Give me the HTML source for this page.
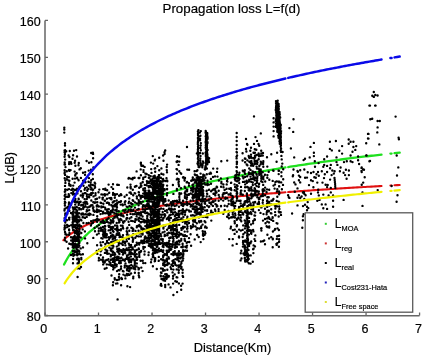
<!DOCTYPE html><html><head><meta charset="utf-8"><style>html,body{margin:0;padding:0;background:#fff;overflow:hidden}svg{display:block}text{font-family:"Liberation Sans",Arial,sans-serif;fill:#000;stroke:#000;stroke-width:0.18px}</style></head><body><svg width="425" height="356" viewBox="0 0 425 356"><rect width="425" height="356" fill="#fff"/><path d="M64.05 264.59L66.06 260.75L68.07 257.25L70.09 254.05L72.10 251.09L74.11 248.35L76.12 245.79L78.14 243.39L80.15 241.13L82.16 238.99L84.17 236.97L86.19 235.06L88.20 233.23L90.21 231.48L92.22 229.82L94.24 228.22L96.25 226.68L98.26 225.21L100.27 223.79L102.29 222.42L104.30 221.09L106.31 219.82L108.32 218.58L110.34 217.38L112.35 216.22L114.36 215.09L116.37 213.99L118.39 212.93L120.40 211.89L122.41 210.88L124.42 209.90L126.44 208.94L128.45 208.01L130.46 207.09L132.47 206.20L134.49 205.33L136.50 204.48L138.51 203.65L140.52 202.83L142.54 202.03L144.55 201.25L146.56 200.48L148.57 199.73L150.59 198.99L152.60 198.27L154.61 197.56L156.62 196.86L158.64 196.18L160.65 195.51L162.66 194.85L164.67 194.20L166.69 193.56L168.70 192.93L170.71 192.31L172.72 191.70L174.73 191.10L176.75 190.51L178.76 189.93L180.77 189.36L182.78 188.80L184.80 188.24L186.81 187.69L188.82 187.15L190.83 186.62L192.85 186.10L194.86 185.58L196.87 185.07L198.88 184.56L200.90 184.07L202.91 183.58L204.92 183.09L206.93 182.61L208.95 182.14L210.96 181.67L212.97 181.21L214.98 180.75L217.00 180.30L219.01 179.86L221.02 179.42L223.03 178.98L225.05 178.55L227.06 178.12L229.07 177.70L231.08 177.29L233.10 176.87L235.11 176.47L237.12 176.06L239.13 175.66L241.15 175.27L243.16 174.88L245.17 174.49L247.18 174.11L249.20 173.73L251.21 173.35L253.22 172.98L255.23 172.61L257.25 172.25L259.26 171.89L261.27 171.53L263.28 171.17L265.30 170.82L267.31 170.47L269.32 170.13L271.33 169.79L273.35 169.45L275.36 169.11L277.37 168.78L279.38 168.45L281.40 168.12L283.41 167.79L285.42 167.47M288.20 167.03L290.23 166.71L292.26 166.40L294.29 166.08L296.32 165.77L298.35 165.47L300.38 165.16L302.40 164.86L304.43 164.56L306.46 164.26L308.49 163.96L310.52 163.67L312.55 163.38L314.58 163.09L316.61 162.80L318.63 162.52L320.66 162.23L322.69 161.95L324.72 161.67L326.75 161.40L328.78 161.12L330.81 160.85L332.83 160.58L334.86 160.31L336.89 160.04L338.92 159.78L340.95 159.51L342.98 159.25L345.01 158.99L347.04 158.73L349.06 158.48L351.09 158.22L353.12 157.97L355.15 157.72L357.18 157.47L359.21 157.22L361.24 156.97L363.27 156.73L365.29 156.48L367.32 156.24L369.35 156.00L371.38 155.76L373.41 155.53L375.44 155.29L377.47 155.06L379.50 154.82L381.52 154.59M394.47 153.14L397.10 152.86L399.72 152.57M390.40 153.53h1.2" fill="none" stroke="#1ee01e" stroke-width="2.3" stroke-linecap="round" stroke-linejoin="round"/><path d="M63.35 240.26L65.35 238.33L67.36 236.58L69.36 234.99L71.36 233.51L73.36 232.15L75.36 230.88L77.36 229.69L79.36 228.57L81.36 227.51L83.36 226.51L85.36 225.57L87.36 224.66L89.36 223.80L91.36 222.98L93.36 222.19L95.36 221.44L97.36 220.71L99.36 220.01L101.37 219.34L103.37 218.69L105.37 218.06L107.37 217.45L109.37 216.86L111.37 216.29L113.37 215.74L115.37 215.20L117.37 214.68L119.37 214.17L121.37 213.67L123.37 213.19L125.37 212.72L127.37 212.26L129.37 211.81L131.37 211.38L133.37 210.95L135.38 210.53L137.38 210.12L139.38 209.73L141.38 209.33L143.38 208.95L145.38 208.58L147.38 208.21L149.38 207.85L151.38 207.49L153.38 207.15L155.38 206.80L157.38 206.47L159.38 206.14L161.38 205.82L163.38 205.50L165.38 205.19L167.39 204.88L169.39 204.58L171.39 204.28L173.39 203.99L175.39 203.70L177.39 203.41L179.39 203.13L181.39 202.86L183.39 202.59L185.39 202.32L187.39 202.06L189.39 201.80L191.39 201.54L193.39 201.29L195.39 201.04L197.39 200.79L199.39 200.55L201.40 200.31L203.40 200.07L205.40 199.83L207.40 199.60L209.40 199.38L211.40 199.15L213.40 198.93L215.40 198.71L217.40 198.49L219.40 198.27L221.40 198.06L223.40 197.85L225.40 197.64L227.40 197.44L229.40 197.23L231.40 197.03L233.40 196.83L235.41 196.64L237.41 196.44L239.41 196.25L241.41 196.06L243.41 195.87L245.41 195.68L247.41 195.50L249.41 195.31L251.41 195.13L253.41 194.95L255.41 194.77L257.41 194.60L259.41 194.42L261.41 194.25L263.41 194.08L265.41 193.91L267.42 193.74L269.42 193.57L271.42 193.41L273.42 193.24L275.42 193.08L277.42 192.92L279.42 192.76L281.42 192.60L283.42 192.44L285.42 192.29M288.20 192.07L290.23 191.92L292.26 191.76L294.29 191.61L296.32 191.46L298.35 191.31L300.38 191.16L302.40 191.01L304.43 190.87L306.46 190.72L308.49 190.58L310.52 190.44L312.55 190.29L314.58 190.15L316.61 190.01L318.63 189.87L320.66 189.74L322.69 189.60L324.72 189.46L326.75 189.33L328.78 189.20L330.81 189.06L332.83 188.93L334.86 188.80L336.89 188.67L338.92 188.54L340.95 188.41L342.98 188.28L345.01 188.16L347.04 188.03L349.06 187.91L351.09 187.78L353.12 187.66L355.15 187.54L357.18 187.42L359.21 187.30L361.24 187.18L363.27 187.06L365.29 186.94L367.32 186.82L369.35 186.70L371.38 186.59L373.41 186.47L375.44 186.36L377.47 186.24L379.50 186.13L381.52 186.02M394.47 185.31L397.10 185.17L399.72 185.03M390.40 185.50h1.2" fill="none" stroke="#e01010" stroke-width="2.1" stroke-linecap="round" stroke-linejoin="round"/><path d="M64.9 152.7h0M64.9 152.7h0M68.6 155.4h0M68.6 155.4h0M69.4 157.0h0M73.1 155.2h0M72.5 158.7h0M77.0 156.5h0M64.6 164.5h0M64.9 164.4h0M69.1 164.0h0M71.3 163.7h0M70.9 162.1h0M69.2 162.1h0M75.4 165.7h0M75.1 160.8h0M74.7 162.8h0M78.5 165.2h0M78.8 162.9h0M86.6 161.0h0M64.6 173.5h0M66.8 171.2h0M69.4 170.9h0M69.0 169.9h0M70.6 170.1h0M74.6 171.6h0M75.4 174.4h0M75.2 175.6h0M79.5 169.4h0M76.7 173.2h0M80.8 168.3h0M83.0 172.8h0M85.2 172.1h0M85.0 174.7h0M66.9 179.2h0M67.1 176.8h0M68.9 177.1h0M68.6 180.5h0M69.4 180.8h0M69.4 180.8h0M69.1 183.4h0M74.6 182.6h0M75.0 178.6h0M72.6 178.8h0M77.0 177.8h0M78.6 180.3h0M77.3 178.5h0M77.2 178.2h0M80.9 177.9h0M83.1 180.8h0M85.3 182.4h0M84.7 179.9h0M85.5 182.1h0M65.2 191.4h0M67.3 189.7h0M70.6 185.1h0M70.7 185.8h0M69.0 189.1h0M69.3 185.2h0M71.3 189.9h0M72.9 189.0h0M73.3 191.5h0M75.0 189.8h0M73.2 185.6h0M72.5 188.7h0M77.1 188.7h0M79.2 186.9h0M76.5 190.2h0M81.0 191.2h0M83.5 185.7h0M80.5 185.9h0M86.8 187.4h0M84.6 189.8h0M87.2 190.3h0M87.3 190.8h0M85.0 188.2h0M67.3 196.8h0M64.7 195.8h0M65.1 194.7h0M71.3 193.1h0M68.7 194.3h0M69.0 196.5h0M68.9 196.8h0M69.2 195.6h0M75.0 194.1h0M75.4 198.9h0M73.3 193.3h0M72.9 194.6h0M72.9 193.9h0M77.4 193.4h0M78.6 198.8h0M78.7 199.3h0M82.7 197.2h0M80.7 195.5h0M82.8 193.7h0M82.6 195.0h0M83.1 195.6h0M87.0 194.5h0M84.6 199.1h0M85.5 193.1h0M86.8 199.0h0M84.8 193.3h0M87.3 197.3h0M86.9 196.3h0M91.2 153.0h0M92.9 152.8h0M93.1 158.2h0M93.1 153.9h0M89.0 162.8h0M91.4 162.3h0M93.4 167.5h0M88.7 170.6h0M91.0 169.8h0M92.8 174.2h0M88.5 181.7h0M89.0 178.1h0M90.6 182.4h0M91.2 180.3h0M95.2 183.6h0M94.7 182.8h0M92.9 178.9h0M88.5 188.9h0M90.9 184.7h0M91.4 189.3h0M91.1 189.4h0M89.0 185.5h0M90.5 187.0h0M91.5 188.3h0M94.7 185.7h0M94.9 187.8h0M92.7 190.0h0M92.8 185.0h0M95.1 187.2h0M94.8 186.0h0M93.2 189.6h0M99.3 189.6h0M103.2 189.1h0M107.2 190.3h0M105.4 189.9h0M105.3 188.6h0M108.6 184.6h0M111.5 187.1h0M113.1 188.9h0M113.0 184.3h0M117.2 184.8h0M118.8 184.9h0M88.7 197.1h0M91.0 195.1h0M91.4 194.4h0M89.1 197.1h0M89.1 194.8h0M91.1 193.3h0M90.6 194.3h0M89.2 197.3h0M91.2 194.4h0M93.5 196.4h0M95.5 199.2h0M92.8 192.9h0M95.5 195.2h0M92.6 193.0h0M95.5 193.3h0M99.4 197.5h0M97.0 198.8h0M98.5 192.3h0M102.9 197.7h0M102.8 194.6h0M102.5 197.9h0M102.6 199.2h0M101.4 194.4h0M106.9 198.7h0M104.9 195.5h0M107.4 194.4h0M105.3 194.4h0M104.7 194.3h0M109.3 198.1h0M111.4 198.3h0M111.4 199.3h0M109.2 192.7h0M111.0 197.9h0M111.0 199.0h0M113.0 194.8h0M114.8 197.8h0M114.9 194.1h0M115.1 195.2h0M113.1 192.9h0M119.1 195.7h0M119.5 195.6h0M117.0 194.1h0M140.8 163.0h0M141.4 165.8h0M142.9 165.8h0M140.9 162.8h0M141.0 164.5h0M144.6 166.9h0M150.9 162.6h0M136.6 171.4h0M143.5 171.9h0M140.9 175.2h0M143.5 170.1h0M140.7 169.4h0M145.4 173.6h0M146.6 174.0h0M148.7 175.1h0M151.5 172.9h0M151.2 169.1h0M128.9 178.0h0M128.5 178.5h0M130.8 178.6h0M133.0 178.0h0M132.5 179.3h0M134.6 177.7h0M138.6 178.0h0M139.4 178.0h0M143.2 179.0h0M142.7 182.2h0M140.7 183.5h0M143.3 177.7h0M142.7 181.9h0M147.1 182.9h0M146.9 181.2h0M145.4 176.7h0M148.9 181.6h0M148.9 182.9h0M151.2 183.7h0M148.8 177.7h0M150.5 181.2h0M151.3 183.6h0M150.7 176.3h0M150.6 179.4h0M149.1 181.9h0M127.3 187.5h0M130.7 188.3h0M130.7 187.0h0M130.5 187.3h0M130.5 184.6h0M132.8 189.8h0M134.9 186.8h0M132.8 189.6h0M135.4 186.5h0M136.5 186.0h0M139.2 187.7h0M143.4 190.3h0M141.4 185.7h0M143.3 190.0h0M140.8 186.7h0M143.3 188.7h0M140.9 185.5h0M145.0 188.3h0M145.5 190.8h0M144.8 184.9h0M144.9 191.6h0M146.7 185.3h0M149.2 190.6h0M149.3 186.5h0M151.1 187.1h0M150.7 186.1h0M148.7 186.4h0M148.8 187.2h0M149.0 186.0h0M149.2 191.6h0M148.5 190.8h0M149.3 191.1h0M149.4 186.0h0M121.4 195.1h0M120.9 194.2h0M124.6 196.7h0M126.7 195.0h0M129.5 192.6h0M129.3 198.4h0M131.2 193.7h0M130.6 192.5h0M134.6 193.1h0M135.2 193.4h0M133.2 195.2h0M139.2 195.4h0M136.8 196.5h0M138.9 192.4h0M139.1 195.2h0M138.7 192.3h0M136.9 198.4h0M139.1 195.0h0M140.5 196.4h0M142.6 196.9h0M143.2 193.6h0M142.8 196.2h0M140.6 195.9h0M140.8 198.5h0M141.5 195.9h0M141.1 197.0h0M145.1 198.6h0M147.1 193.8h0M146.7 193.9h0M147.4 193.5h0M146.6 194.1h0M144.5 196.5h0M145.2 194.7h0M147.1 196.4h0M147.1 194.6h0M144.9 197.2h0M147.0 193.6h0M145.1 195.9h0M144.9 196.9h0M147.3 198.3h0M146.6 193.3h0M146.9 198.2h0M144.5 193.3h0M151.3 196.1h0M149.3 198.9h0M148.5 192.8h0M148.7 199.6h0M150.8 198.3h0M149.2 197.6h0M148.6 194.9h0M150.7 198.9h0M151.4 195.7h0M151.0 199.1h0M149.1 196.9h0M148.8 192.6h0M148.9 197.0h0M151.2 198.9h0M149.3 194.3h0M149.1 195.0h0M151.1 196.6h0M148.8 196.3h0M151.2 195.0h0M151.5 196.6h0M150.8 192.9h0M152.8 156.1h0M155.1 159.6h0M159.2 157.8h0M163.1 155.5h0M164.6 154.0h0M164.5 152.3h0M177.0 156.3h0M179.1 156.7h0M154.7 160.4h0M153.2 163.6h0M157.4 166.1h0M163.5 160.7h0M167.1 164.6h0M166.7 167.0h0M176.9 162.1h0M177.4 161.1h0M176.6 161.8h0M179.3 161.6h0M178.6 164.9h0M155.2 168.3h0M155.2 171.7h0M154.7 175.7h0M154.7 168.6h0M159.2 170.3h0M159.2 175.1h0M158.8 175.2h0M161.4 168.4h0M163.4 174.5h0M161.4 173.8h0M166.8 170.1h0M167.0 172.2h0M176.9 173.7h0M179.3 171.2h0M177.1 169.6h0M176.5 169.1h0M176.8 169.3h0M180.6 173.1h0M181.2 173.8h0M154.7 183.4h0M153.4 181.9h0M154.6 177.8h0M152.5 183.3h0M153.3 181.0h0M155.0 177.3h0M152.8 178.8h0M154.5 178.2h0M154.5 181.9h0M155.3 180.8h0M155.4 180.9h0M153.3 176.5h0M152.8 181.5h0M153.2 182.4h0M154.7 176.3h0M152.8 181.9h0M152.5 179.9h0M157.5 180.7h0M159.1 177.5h0M157.4 178.0h0M156.6 181.0h0M157.0 183.6h0M157.1 178.9h0M159.4 182.9h0M156.9 181.1h0M158.7 178.2h0M156.9 182.8h0M157.4 177.2h0M156.8 178.7h0M157.4 179.6h0M158.7 179.5h0M159.1 177.2h0M159.1 181.5h0M162.8 181.5h0M161.2 183.5h0M163.1 178.9h0M160.8 177.7h0M160.7 181.2h0M160.9 183.6h0M163.2 179.5h0M160.6 183.0h0M162.7 179.2h0M160.5 182.6h0M163.2 180.0h0M166.5 178.2h0M166.5 178.1h0M167.2 180.6h0M167.3 181.2h0M165.2 181.0h0M178.8 181.5h0M178.7 179.3h0M176.8 179.4h0M178.5 182.7h0M177.4 178.7h0M183.4 177.1h0M183.0 177.5h0M153.0 185.0h0M155.0 189.6h0M153.1 190.4h0M154.9 191.3h0M153.5 185.7h0M153.2 188.8h0M152.8 187.1h0M152.5 187.4h0M155.1 189.3h0M154.6 186.5h0M155.4 188.2h0M153.5 191.4h0M154.7 185.3h0M153.3 189.0h0M155.1 189.6h0M152.9 189.0h0M155.0 186.5h0M153.3 187.8h0M152.8 187.1h0M155.5 189.3h0M154.5 189.6h0M157.2 186.7h0M158.9 189.0h0M158.7 186.5h0M158.6 190.4h0M159.3 185.3h0M159.1 184.4h0M156.7 184.8h0M158.8 185.1h0M157.4 185.7h0M158.8 185.4h0M159.3 185.5h0M157.2 190.9h0M158.7 189.4h0M157.2 187.5h0M157.1 186.3h0M157.3 187.8h0M157.0 191.0h0M158.7 185.5h0M156.7 186.7h0M159.2 190.5h0M158.9 191.7h0M161.1 189.0h0M160.5 184.6h0M163.3 185.0h0M163.0 190.9h0M160.7 187.4h0M160.8 190.7h0M162.8 190.1h0M160.8 186.8h0M163.1 190.4h0M162.9 188.0h0M163.0 186.3h0M163.5 189.1h0M160.8 186.6h0M162.6 191.5h0M161.3 184.6h0M163.0 184.7h0M164.5 190.4h0M167.1 189.2h0M167.1 188.9h0M164.7 189.2h0M167.1 185.6h0M172.9 185.0h0M176.9 190.4h0M179.1 186.2h0M178.7 184.6h0M176.9 189.0h0M181.0 188.2h0M155.1 199.1h0M154.6 197.3h0M153.0 195.4h0M152.6 195.8h0M153.1 195.5h0M153.2 193.2h0M152.7 193.2h0M154.5 197.6h0M153.0 197.8h0M152.9 197.8h0M153.2 192.9h0M155.0 199.2h0M155.4 192.7h0M152.5 192.4h0M152.9 194.6h0M153.5 198.5h0M152.8 199.3h0M155.0 193.5h0M152.9 197.1h0M155.0 198.1h0M155.4 198.1h0M158.8 196.9h0M159.4 197.7h0M157.3 196.7h0M159.1 199.5h0M156.9 197.4h0M157.3 194.4h0M156.8 194.3h0M157.1 198.3h0M156.8 193.3h0M156.8 198.6h0M158.8 192.9h0M159.3 193.8h0M156.8 192.7h0M159.0 193.8h0M159.1 192.4h0M159.0 192.9h0M159.3 194.0h0M159.4 196.2h0M159.0 193.8h0M156.7 193.6h0M158.9 196.5h0M160.7 199.1h0M162.9 193.1h0M163.3 193.5h0M160.8 196.1h0M160.6 193.8h0M163.1 193.9h0M162.9 199.3h0M160.8 192.6h0M161.5 195.1h0M160.6 196.4h0M163.0 198.6h0M161.4 197.0h0M161.2 193.0h0M163.1 197.0h0M162.7 198.6h0M163.5 199.6h0M160.7 199.3h0M162.6 196.4h0M161.3 192.6h0M162.6 193.4h0M161.4 197.3h0M167.3 193.1h0M166.9 195.2h0M167.0 193.5h0M165.3 199.1h0M165.0 199.1h0M173.4 193.9h0M179.4 193.3h0M179.5 199.2h0M179.3 196.9h0M179.5 194.7h0M181.1 193.4h0M181.2 193.6h0M196.9 153.4h0M198.9 153.5h0M202.8 153.5h0M207.0 155.9h0M209.1 158.1h0M209.1 158.5h0M197.5 163.5h0M199.5 167.1h0M202.9 161.5h0M202.6 165.0h0M203.3 162.8h0M205.3 167.3h0M206.7 163.5h0M208.8 161.6h0M209.0 162.0h0M208.7 160.9h0M187.3 169.6h0M189.1 169.8h0M195.3 175.1h0M194.8 174.5h0M194.6 171.3h0M197.4 170.3h0M197.1 175.6h0M196.7 171.0h0M196.9 175.2h0M200.6 173.6h0M203.3 174.7h0M204.8 169.1h0M206.9 168.5h0M204.5 175.5h0M205.1 169.5h0M206.8 174.3h0M209.4 173.8h0M210.5 172.7h0M211.0 173.5h0M213.2 168.6h0M187.1 181.9h0M184.6 179.3h0M185.0 178.0h0M184.6 180.5h0M186.7 182.4h0M191.2 180.7h0M188.9 183.3h0M194.9 182.5h0M195.3 180.5h0M195.3 182.6h0M192.8 177.4h0M194.7 179.4h0M192.9 180.2h0M192.8 177.8h0M192.7 179.4h0M199.1 182.3h0M196.5 181.0h0M199.4 180.9h0M197.1 178.2h0M196.9 183.3h0M198.6 178.9h0M196.6 180.7h0M198.6 180.7h0M196.9 180.1h0M199.4 180.6h0M198.7 177.0h0M199.3 180.8h0M197.2 177.8h0M199.0 180.4h0M199.0 178.6h0M196.8 177.7h0M199.5 179.2h0M198.7 183.3h0M199.1 179.9h0M199.4 177.9h0M197.3 177.5h0M202.9 176.8h0M203.3 178.9h0M201.0 183.6h0M200.9 181.2h0M201.2 180.9h0M203.3 180.1h0M202.8 181.0h0M200.9 177.1h0M203.3 180.6h0M202.9 183.6h0M200.9 182.1h0M200.9 179.6h0M202.8 178.9h0M202.9 180.4h0M203.1 176.4h0M202.9 178.5h0M203.3 179.5h0M204.6 183.1h0M207.5 180.8h0M205.5 177.8h0M207.4 183.4h0M204.5 180.5h0M211.0 183.7h0M210.9 178.9h0M215.0 176.4h0M213.0 177.0h0M187.1 191.2h0M185.4 191.4h0M186.9 190.0h0M187.2 189.8h0M184.7 186.7h0M185.3 188.1h0M191.2 190.4h0M191.1 188.2h0M189.0 185.7h0M192.9 191.7h0M193.2 184.4h0M192.8 189.4h0M193.4 187.2h0M193.1 189.2h0M192.7 190.0h0M195.4 190.9h0M193.1 187.3h0M192.6 188.1h0M192.5 184.9h0M195.3 188.8h0M193.2 189.4h0M197.2 186.9h0M196.5 189.0h0M196.8 187.6h0M198.5 185.9h0M199.1 191.4h0M198.6 186.1h0M196.5 191.2h0M196.8 191.0h0M198.8 188.8h0M199.5 184.8h0M199.2 188.6h0M198.8 190.8h0M198.5 190.7h0M196.7 187.0h0M196.5 190.8h0M199.1 185.2h0M198.8 189.1h0M196.9 191.1h0M196.9 187.8h0M198.7 184.6h0M196.8 185.5h0M200.7 188.3h0M201.1 187.8h0M200.7 186.9h0M202.9 191.4h0M200.8 187.8h0M200.7 187.6h0M201.4 191.7h0M203.1 187.0h0M200.9 188.1h0M201.4 185.2h0M201.0 186.3h0M202.5 189.6h0M200.8 187.2h0M201.2 190.0h0M200.8 189.2h0M200.6 191.1h0M202.7 189.6h0M200.7 185.2h0M202.8 187.3h0M203.3 190.8h0M201.4 185.6h0M207.4 184.5h0M206.7 190.6h0M207.4 185.0h0M206.6 191.1h0M205.2 184.6h0M208.9 189.9h0M208.9 184.6h0M211.1 191.3h0M209.1 189.6h0M215.2 188.6h0M212.6 190.0h0M215.4 190.8h0M213.5 189.3h0M186.7 199.1h0M184.9 197.8h0M184.8 193.0h0M186.9 194.8h0M187.0 197.3h0M184.9 196.1h0M185.0 193.7h0M190.7 193.5h0M189.0 194.1h0M188.7 194.9h0M194.6 197.4h0M195.2 194.1h0M192.5 197.4h0M193.4 194.9h0M194.6 197.5h0M192.8 198.3h0M195.3 193.6h0M193.1 195.7h0M195.3 193.1h0M194.5 195.9h0M192.6 194.4h0M192.6 194.6h0M196.8 195.8h0M198.8 196.4h0M196.5 199.6h0M198.6 197.6h0M198.6 195.9h0M199.0 198.1h0M198.5 199.1h0M199.1 199.2h0M199.2 192.9h0M196.5 195.2h0M196.8 193.7h0M196.6 197.6h0M199.2 194.7h0M197.1 194.9h0M196.9 196.4h0M199.3 194.2h0M196.5 196.5h0M199.4 199.3h0M198.9 197.7h0M199.1 196.9h0M197.2 193.5h0M202.6 192.6h0M203.0 193.9h0M202.5 198.5h0M202.6 192.8h0M201.0 195.4h0M202.6 192.4h0M201.4 193.5h0M202.5 198.3h0M203.1 195.8h0M203.0 195.5h0M201.5 199.4h0M201.3 192.7h0M203.1 194.5h0M203.5 195.9h0M200.8 194.8h0M201.3 193.9h0M203.2 193.4h0M203.1 199.3h0M203.0 196.5h0M202.8 194.0h0M201.0 193.1h0M207.1 193.7h0M207.2 194.0h0M206.7 196.5h0M205.2 199.0h0M211.2 198.2h0M209.4 196.4h0M209.1 199.4h0M215.3 195.2h0M213.5 193.7h0M215.3 193.3h0M236.9 152.6h0M236.5 156.7h0M242.6 153.3h0M245.1 158.8h0M245.4 158.7h0M244.9 158.5h0M221.3 161.2h0M227.2 160.6h0M236.9 162.7h0M236.5 167.0h0M236.8 161.7h0M242.6 160.5h0M246.7 164.4h0M247.4 165.3h0M245.1 162.2h0M247.4 160.4h0M217.0 171.9h0M217.3 168.6h0M235.3 175.5h0M238.9 174.8h0M236.9 172.2h0M239.4 172.7h0M236.7 174.4h0M243.1 171.2h0M242.8 170.8h0M244.5 171.7h0M245.1 173.7h0M244.8 170.3h0M218.9 180.5h0M217.5 176.6h0M221.4 182.0h0M220.9 178.4h0M221.4 183.2h0M227.5 178.8h0M227.0 181.0h0M227.4 181.6h0M231.2 182.8h0M231.0 182.9h0M234.7 177.8h0M234.9 179.2h0M235.4 180.6h0M238.8 180.5h0M238.6 177.7h0M237.1 178.6h0M239.5 178.9h0M239.2 183.1h0M243.4 178.3h0M243.0 181.9h0M242.7 176.4h0M246.7 180.8h0M244.7 181.7h0M245.1 176.9h0M247.2 176.3h0M247.0 182.8h0M216.7 186.7h0M217.1 187.3h0M218.7 190.7h0M221.1 186.8h0M223.5 187.3h0M223.4 184.5h0M226.6 188.8h0M226.7 184.4h0M224.6 190.0h0M230.9 188.3h0M229.2 188.8h0M230.7 188.9h0M231.3 190.0h0M235.1 187.0h0M234.6 184.4h0M234.6 190.3h0M237.5 186.0h0M237.4 188.9h0M236.6 188.0h0M236.8 188.8h0M241.4 190.6h0M241.0 186.9h0M240.9 190.7h0M247.4 187.2h0M244.8 191.0h0M245.2 184.4h0M247.2 186.9h0M245.1 187.3h0M216.5 192.5h0M218.7 194.9h0M219.3 197.1h0M222.7 196.5h0M221.0 199.2h0M223.5 193.3h0M222.8 194.8h0M223.4 194.1h0M226.7 192.7h0M225.4 197.7h0M225.3 198.7h0M224.9 193.3h0M227.2 198.3h0M228.6 194.5h0M230.6 193.5h0M230.6 194.8h0M231.4 199.5h0M232.7 196.9h0M232.5 196.0h0M233.1 197.5h0M232.5 198.9h0M236.6 195.9h0M237.0 192.3h0M237.2 193.4h0M237.0 198.5h0M236.8 193.9h0M241.2 194.3h0M240.5 194.3h0M240.7 192.7h0M242.8 194.7h0M247.0 196.4h0M247.5 198.8h0M246.9 194.7h0M246.9 193.4h0M247.4 198.2h0M248.7 156.0h0M251.2 157.7h0M249.3 157.2h0M249.3 158.1h0M248.9 156.4h0M251.0 154.6h0M249.0 157.1h0M251.0 156.7h0M253.3 158.2h0M254.9 152.8h0M255.1 157.3h0M254.6 158.2h0M253.4 158.0h0M255.4 155.8h0M255.0 155.8h0M253.5 152.8h0M259.0 156.2h0M258.7 153.6h0M258.7 159.3h0M256.8 155.0h0M258.6 153.4h0M258.9 155.0h0M263.0 153.0h0M262.8 155.6h0M260.9 155.8h0M261.3 153.4h0M267.0 157.2h0M271.3 154.2h0M277.1 152.7h0M251.4 162.2h0M251.3 161.0h0M251.4 161.8h0M251.5 162.4h0M251.4 165.6h0M250.9 165.6h0M251.5 163.5h0M250.9 163.2h0M249.4 161.7h0M254.6 161.8h0M252.6 163.6h0M255.0 164.0h0M252.6 164.5h0M255.2 163.5h0M254.7 160.8h0M255.0 164.1h0M253.2 165.8h0M257.4 162.5h0M259.3 166.0h0M256.6 166.6h0M256.6 161.0h0M257.1 160.7h0M257.2 163.9h0M263.3 161.3h0M263.3 166.8h0M260.8 161.7h0M260.7 164.3h0M262.6 163.1h0M263.1 164.1h0M263.2 162.6h0M267.3 166.6h0M276.6 161.8h0M251.2 173.6h0M248.9 174.2h0M249.0 173.5h0M249.2 168.4h0M248.9 172.5h0M250.5 169.9h0M250.8 173.6h0M250.9 173.7h0M252.6 171.5h0M252.5 174.7h0M253.3 172.0h0M253.4 172.5h0M253.0 173.3h0M255.3 172.3h0M252.6 175.1h0M253.0 171.7h0M253.3 175.3h0M259.2 171.6h0M258.7 168.7h0M256.5 174.5h0M259.3 174.8h0M259.2 173.6h0M259.4 170.7h0M256.7 174.2h0M256.9 168.5h0M262.7 172.3h0M260.7 169.4h0M260.9 173.3h0M260.5 170.9h0M261.5 175.3h0M260.8 170.9h0M267.4 175.1h0M265.0 174.7h0M268.7 171.8h0M273.1 170.5h0M273.5 170.8h0M278.6 170.8h0M279.0 170.7h0M278.7 174.1h0M249.2 179.7h0M249.3 180.7h0M250.5 176.6h0M248.9 181.5h0M251.1 178.9h0M251.2 181.7h0M252.8 182.5h0M254.8 178.2h0M253.4 177.2h0M254.8 180.3h0M255.0 177.5h0M253.0 179.0h0M259.1 183.6h0M257.2 180.3h0M257.4 176.4h0M257.0 182.2h0M257.2 178.0h0M256.7 178.3h0M256.9 180.9h0M256.8 182.9h0M257.2 177.9h0M261.3 176.8h0M263.5 176.6h0M261.3 178.8h0M263.1 177.7h0M263.4 179.3h0M262.5 182.1h0M261.2 181.3h0M267.3 177.8h0M265.2 181.5h0M269.3 179.8h0M275.4 181.9h0M272.7 180.9h0M278.6 181.6h0M279.1 182.2h0M279.2 181.8h0M276.8 181.4h0M249.2 190.5h0M248.9 190.4h0M251.2 188.7h0M248.6 190.1h0M251.3 190.6h0M248.7 187.7h0M249.4 188.6h0M248.9 190.1h0M251.3 187.3h0M255.2 191.0h0M255.3 184.3h0M255.1 191.3h0M254.9 188.8h0M254.6 188.3h0M252.9 190.5h0M252.8 185.0h0M254.7 190.9h0M255.2 190.3h0M256.9 190.9h0M258.8 191.4h0M258.7 186.9h0M258.8 186.7h0M257.4 191.5h0M259.0 184.3h0M256.6 186.1h0M263.2 189.3h0M262.6 189.9h0M263.2 184.9h0M262.9 191.4h0M262.8 189.5h0M263.4 190.3h0M267.0 189.4h0M264.6 190.5h0M265.1 187.6h0M269.2 189.8h0M275.0 184.4h0M274.6 188.6h0M273.5 185.6h0M279.1 186.1h0M276.9 191.5h0M277.3 189.3h0M279.0 191.5h0M279.2 186.4h0M251.3 198.2h0M251.4 193.8h0M248.7 197.8h0M249.2 199.0h0M251.5 198.1h0M251.5 193.7h0M251.4 195.8h0M251.4 195.3h0M250.9 194.7h0M254.8 193.8h0M255.0 195.3h0M253.3 194.6h0M252.8 196.3h0M255.3 194.3h0M255.2 195.2h0M255.4 193.2h0M255.3 192.6h0M258.9 199.3h0M259.5 198.9h0M257.3 197.3h0M259.3 197.6h0M258.7 193.6h0M257.3 195.2h0M262.9 196.0h0M262.8 193.7h0M261.0 196.2h0M262.6 194.8h0M266.6 192.3h0M265.1 195.3h0M267.3 197.3h0M268.7 197.3h0M273.4 199.0h0M279.4 193.3h0M279.1 194.3h0M277.3 196.8h0M65.4 202.6h0M67.2 207.5h0M64.9 205.5h0M70.7 203.7h0M68.9 204.0h0M71.1 204.7h0M68.5 206.4h0M69.0 202.5h0M75.0 202.0h0M72.8 207.5h0M72.7 201.6h0M74.9 200.8h0M75.2 204.6h0M74.9 207.4h0M77.3 207.4h0M79.2 202.2h0M79.1 203.5h0M78.7 204.9h0M76.9 202.4h0M76.6 206.9h0M76.9 201.8h0M77.3 201.8h0M83.2 207.3h0M80.6 201.8h0M81.3 205.0h0M83.1 204.9h0M83.5 202.6h0M81.2 205.4h0M85.3 203.7h0M84.8 206.7h0M87.3 203.8h0M85.4 206.2h0M87.4 207.5h0M85.0 202.2h0M86.7 202.2h0M85.4 201.7h0M67.3 213.7h0M65.3 214.5h0M64.6 209.1h0M66.5 214.3h0M69.0 208.6h0M69.4 210.8h0M71.0 213.0h0M68.5 209.8h0M72.6 214.8h0M72.9 212.5h0M75.3 212.5h0M73.4 209.6h0M73.2 211.8h0M75.1 209.2h0M75.1 208.8h0M73.3 214.9h0M72.9 214.1h0M73.1 213.8h0M72.7 215.0h0M73.3 208.6h0M72.9 215.3h0M73.3 208.6h0M74.8 209.4h0M73.0 215.4h0M76.7 214.3h0M77.1 210.7h0M79.4 208.3h0M77.1 214.4h0M77.2 213.2h0M79.0 213.3h0M76.5 214.4h0M78.7 213.5h0M77.2 215.6h0M77.0 210.9h0M76.6 210.1h0M76.6 210.3h0M79.3 209.4h0M79.3 208.4h0M76.5 213.4h0M77.0 211.7h0M81.4 213.7h0M81.4 214.5h0M81.2 209.3h0M83.3 208.7h0M82.9 213.5h0M83.3 214.6h0M86.6 211.6h0M87.3 214.5h0M86.8 210.1h0M87.0 210.8h0M87.4 210.7h0M85.4 214.2h0M84.6 214.4h0M66.9 220.3h0M66.7 220.2h0M65.4 219.3h0M69.1 217.9h0M69.2 219.5h0M69.5 217.6h0M73.2 221.8h0M74.7 218.2h0M72.6 222.7h0M75.1 221.2h0M73.2 220.7h0M74.8 216.8h0M73.0 216.8h0M72.6 217.1h0M75.1 220.1h0M75.4 219.6h0M72.8 219.2h0M72.9 221.7h0M73.4 219.7h0M75.3 216.5h0M72.6 217.8h0M75.2 218.4h0M76.6 217.0h0M79.2 217.6h0M77.0 222.5h0M76.9 221.1h0M76.6 218.5h0M79.4 217.3h0M78.9 221.6h0M76.9 221.8h0M78.9 220.2h0M77.4 223.0h0M76.8 219.1h0M76.7 217.7h0M77.3 222.6h0M77.1 219.8h0M76.6 221.2h0M78.7 216.5h0M79.0 217.1h0M82.6 217.2h0M83.4 223.0h0M82.9 217.2h0M80.8 219.6h0M81.4 220.4h0M85.0 217.9h0M86.6 223.3h0M84.7 217.6h0M86.7 216.9h0M67.3 225.3h0M67.1 225.0h0M67.2 227.0h0M65.2 227.8h0M69.1 230.3h0M69.1 229.4h0M69.0 226.0h0M71.2 225.3h0M75.3 231.3h0M73.4 227.0h0M73.2 224.4h0M75.4 224.9h0M73.4 226.4h0M73.3 226.6h0M75.1 231.3h0M74.5 225.5h0M75.4 226.0h0M74.9 230.6h0M75.2 225.9h0M72.7 227.8h0M75.5 227.7h0M73.5 229.9h0M72.9 226.8h0M73.1 230.0h0M76.7 230.3h0M79.0 228.4h0M78.6 226.1h0M76.8 227.4h0M77.5 225.3h0M79.4 224.7h0M76.9 224.9h0M79.3 226.2h0M77.4 231.4h0M79.5 229.6h0M76.6 231.1h0M77.5 231.0h0M76.8 231.5h0M76.9 228.2h0M79.3 229.1h0M76.9 228.0h0M79.4 231.4h0M81.1 226.2h0M82.7 229.4h0M84.9 231.4h0M65.2 232.7h0M66.7 234.7h0M71.0 237.3h0M69.0 234.7h0M69.5 233.0h0M74.9 233.3h0M72.9 237.5h0M75.2 238.0h0M73.5 237.0h0M74.6 236.1h0M75.1 237.1h0M75.1 239.3h0M74.8 237.9h0M74.7 235.9h0M73.2 238.1h0M74.9 239.4h0M75.3 237.1h0M73.2 239.5h0M72.9 238.6h0M74.7 232.8h0M75.3 238.8h0M77.4 236.7h0M79.2 234.3h0M77.3 238.5h0M77.2 232.3h0M76.7 239.0h0M76.5 233.1h0M77.5 233.4h0M78.6 234.9h0M78.9 235.8h0M78.8 239.2h0M78.7 233.0h0M77.2 234.2h0M78.8 235.9h0M77.1 239.6h0M77.3 238.5h0M78.9 237.6h0M81.3 233.0h0M80.7 237.5h0M85.1 238.4h0M66.6 241.7h0M69.3 243.7h0M71.0 244.2h0M71.2 240.5h0M73.0 241.9h0M75.1 247.0h0M73.5 247.7h0M74.6 240.8h0M75.3 246.4h0M74.9 244.2h0M74.6 244.8h0M72.8 242.7h0M72.7 247.2h0M73.0 241.8h0M73.3 245.6h0M75.2 243.8h0M75.3 241.1h0M73.1 243.5h0M72.8 245.2h0M72.9 246.6h0M79.3 243.1h0M79.3 245.7h0M79.1 241.1h0M78.6 247.1h0M76.5 247.6h0M76.6 245.4h0M76.8 240.8h0M78.9 240.9h0M79.2 245.6h0M76.5 247.0h0M77.0 245.5h0M78.7 244.2h0M78.7 241.6h0M79.2 243.0h0M77.0 244.4h0M76.8 245.8h0M83.0 247.4h0M87.3 243.2h0M89.2 207.1h0M90.6 206.3h0M91.3 200.5h0M91.3 205.4h0M90.8 205.7h0M91.2 205.2h0M89.3 206.7h0M93.3 202.2h0M93.4 207.3h0M94.7 202.7h0M95.4 202.5h0M94.9 202.4h0M92.5 205.3h0M97.3 205.1h0M97.5 205.7h0M97.3 202.2h0M98.9 206.5h0M96.7 205.6h0M96.8 206.5h0M101.4 207.4h0M101.3 206.5h0M103.4 203.8h0M103.3 206.7h0M101.2 203.0h0M100.6 202.7h0M104.7 200.8h0M105.0 200.7h0M107.1 202.6h0M107.5 202.6h0M106.8 202.9h0M107.2 202.9h0M105.1 207.7h0M109.0 203.4h0M108.7 203.0h0M111.4 205.2h0M109.2 204.5h0M114.5 201.3h0M112.7 202.5h0M114.6 206.2h0M112.7 206.8h0M114.7 205.0h0M113.4 201.8h0M115.5 204.1h0M113.0 205.9h0M117.1 203.1h0M116.7 207.0h0M117.4 203.0h0M116.7 200.5h0M117.0 207.2h0M116.6 205.0h0M116.9 204.8h0M119.1 202.0h0M117.0 203.8h0M89.3 215.0h0M89.2 210.1h0M90.7 214.4h0M89.1 215.0h0M89.5 213.6h0M89.2 213.6h0M88.8 214.5h0M93.0 208.3h0M93.4 214.9h0M94.6 211.7h0M93.5 210.8h0M93.5 210.0h0M94.9 211.5h0M96.9 209.4h0M98.6 210.5h0M99.0 211.6h0M99.0 210.4h0M97.0 212.1h0M96.7 210.9h0M100.9 210.9h0M102.8 213.5h0M103.1 211.7h0M100.5 214.1h0M102.9 213.0h0M107.5 212.9h0M105.1 213.2h0M105.4 209.4h0M107.2 211.3h0M107.1 213.3h0M107.3 209.5h0M108.8 209.3h0M109.1 214.3h0M111.0 211.0h0M108.8 212.2h0M111.1 211.8h0M110.8 212.8h0M110.5 214.2h0M108.9 215.1h0M115.4 210.4h0M114.7 213.4h0M112.6 209.9h0M112.6 210.0h0M112.9 209.2h0M113.4 212.4h0M113.3 209.4h0M112.5 212.0h0M118.6 214.8h0M117.1 215.5h0M116.6 209.5h0M116.5 213.5h0M116.6 209.5h0M116.7 210.9h0M116.9 215.5h0M118.8 211.3h0M91.5 223.7h0M88.7 222.9h0M91.1 221.1h0M93.3 220.4h0M93.0 222.8h0M95.2 220.1h0M97.4 220.5h0M97.0 221.4h0M97.2 216.3h0M97.3 219.0h0M97.1 221.7h0M98.8 219.8h0M96.8 219.1h0M101.3 222.1h0M101.5 221.4h0M103.1 220.4h0M102.7 222.6h0M103.5 222.7h0M101.0 222.4h0M100.6 221.9h0M107.1 219.5h0M104.6 222.1h0M104.9 222.8h0M106.9 221.7h0M106.6 219.6h0M106.6 220.0h0M108.6 218.2h0M110.7 220.1h0M111.3 221.4h0M111.0 222.7h0M111.2 221.5h0M108.5 222.5h0M110.6 223.6h0M108.9 222.6h0M115.3 216.5h0M114.5 216.9h0M112.7 220.7h0M113.2 218.8h0M113.5 221.1h0M113.1 222.5h0M114.8 217.5h0M113.0 222.1h0M116.7 223.0h0M119.5 222.0h0M119.0 222.6h0M118.7 219.4h0M119.3 221.3h0M118.7 219.7h0M117.4 217.5h0M90.9 225.5h0M95.0 231.2h0M94.6 228.0h0M98.7 230.9h0M98.9 225.1h0M97.0 226.4h0M98.9 228.4h0M100.8 227.7h0M103.0 227.0h0M103.0 231.2h0M101.0 230.7h0M100.9 228.8h0M102.8 229.6h0M104.9 225.9h0M104.7 228.1h0M105.3 226.1h0M105.2 231.2h0M105.2 229.6h0M104.8 231.5h0M110.8 228.5h0M109.0 226.9h0M108.5 225.8h0M109.4 226.0h0M109.4 226.3h0M111.2 227.1h0M108.6 230.4h0M110.6 229.8h0M111.0 227.5h0M113.5 231.7h0M115.1 229.1h0M112.9 227.0h0M112.9 231.0h0M115.0 225.5h0M112.6 228.7h0M112.7 228.0h0M113.1 227.4h0M117.2 226.0h0M116.7 229.9h0M117.4 226.9h0M117.3 228.7h0M118.8 230.0h0M117.5 231.6h0M117.0 228.0h0M117.1 225.6h0M93.3 237.9h0M96.9 234.6h0M98.7 233.4h0M103.4 233.1h0M103.4 236.6h0M102.6 238.6h0M101.3 238.1h0M103.0 234.8h0M105.0 233.5h0M104.9 237.2h0M104.7 235.8h0M105.2 233.0h0M106.6 237.4h0M106.8 234.3h0M106.7 235.3h0M110.6 232.9h0M109.0 239.6h0M108.9 237.3h0M110.7 237.3h0M111.1 235.6h0M109.4 238.3h0M110.6 232.8h0M110.6 237.4h0M113.3 238.1h0M112.6 234.7h0M112.7 239.3h0M114.8 237.4h0M114.9 238.4h0M113.5 235.5h0M112.6 236.3h0M115.4 237.0h0M119.2 233.2h0M118.6 233.9h0M116.5 234.9h0M119.5 234.7h0M119.5 237.1h0M116.8 233.8h0M118.6 234.9h0M97.1 245.2h0M100.9 245.2h0M100.5 242.5h0M101.3 245.5h0M103.0 242.1h0M107.0 242.5h0M105.3 243.9h0M105.2 246.7h0M107.0 240.9h0M109.3 247.6h0M111.2 245.3h0M111.2 242.3h0M108.8 243.3h0M111.5 244.2h0M111.3 242.0h0M113.2 245.8h0M113.0 243.0h0M115.4 240.6h0M113.4 246.6h0M114.8 241.4h0M113.5 241.7h0M118.6 245.3h0M116.8 246.6h0M116.9 241.7h0M119.0 241.1h0M118.9 243.2h0M119.5 243.2h0M116.9 240.4h0M122.8 205.3h0M120.7 204.6h0M120.8 201.8h0M120.7 204.6h0M122.6 204.5h0M121.0 201.2h0M127.5 207.1h0M125.4 201.2h0M126.7 206.6h0M124.8 202.1h0M125.0 204.4h0M131.3 203.8h0M128.6 203.1h0M129.1 201.6h0M131.0 203.2h0M129.5 205.9h0M131.4 206.8h0M133.2 200.8h0M132.7 200.3h0M135.0 202.4h0M135.0 207.6h0M132.6 204.2h0M139.4 201.9h0M138.9 202.8h0M138.8 200.9h0M139.3 203.0h0M138.6 205.3h0M136.8 203.4h0M138.7 200.3h0M141.2 203.6h0M142.8 201.6h0M142.7 207.1h0M140.5 201.9h0M143.2 205.3h0M143.0 206.2h0M145.1 205.4h0M147.3 204.0h0M145.2 206.7h0M147.1 201.3h0M147.2 201.1h0M146.8 205.3h0M145.2 205.8h0M147.1 205.9h0M151.0 201.5h0M149.2 201.1h0M149.1 205.4h0M148.8 206.6h0M149.4 207.3h0M148.5 206.9h0M150.6 206.4h0M151.0 206.7h0M148.8 205.0h0M148.6 203.1h0M148.5 205.6h0M123.2 210.5h0M121.4 215.6h0M123.1 215.5h0M121.3 213.7h0M120.8 215.3h0M127.1 214.7h0M124.9 212.3h0M127.3 211.7h0M125.4 209.9h0M128.6 210.6h0M128.7 209.9h0M131.0 210.9h0M130.5 213.9h0M130.9 209.5h0M134.7 214.0h0M135.4 211.8h0M133.3 209.8h0M132.9 214.3h0M132.8 210.9h0M138.9 212.6h0M136.8 214.3h0M138.8 214.4h0M137.2 209.6h0M137.3 213.3h0M138.9 213.3h0M138.7 209.0h0M140.8 213.1h0M142.9 209.4h0M141.2 214.5h0M141.0 212.3h0M143.1 211.9h0M140.5 215.2h0M145.4 213.1h0M145.0 209.9h0M147.1 212.7h0M145.1 211.1h0M147.3 215.6h0M145.2 209.4h0M144.6 212.5h0M144.7 209.8h0M146.8 208.9h0M150.5 215.1h0M148.9 214.1h0M150.6 210.0h0M148.6 213.8h0M151.2 214.1h0M148.7 208.6h0M150.9 215.2h0M150.7 211.4h0M151.2 212.6h0M150.8 214.4h0M150.7 208.7h0M121.5 220.1h0M120.6 219.0h0M123.5 216.4h0M123.1 222.5h0M123.3 222.8h0M123.2 221.7h0M120.6 219.2h0M126.5 219.6h0M127.0 218.0h0M124.6 221.3h0M126.5 218.5h0M128.6 221.7h0M129.5 218.5h0M131.2 220.9h0M131.4 217.2h0M135.5 219.1h0M135.4 219.1h0M132.8 221.1h0M134.9 221.9h0M135.3 220.6h0M139.4 217.8h0M138.9 220.8h0M138.7 220.1h0M138.6 218.3h0M136.6 216.4h0M136.5 219.6h0M143.4 219.6h0M140.6 222.2h0M142.8 221.6h0M141.3 219.0h0M142.6 216.5h0M141.1 222.3h0M144.6 222.4h0M146.9 220.6h0M147.3 216.6h0M145.0 221.2h0M147.1 222.7h0M144.9 220.5h0M145.1 221.6h0M147.2 218.4h0M148.8 220.6h0M151.1 221.0h0M148.6 220.1h0M150.7 217.2h0M151.2 219.1h0M151.4 220.1h0M149.5 223.3h0M151.4 222.6h0M148.6 220.4h0M149.3 220.4h0M148.8 221.5h0M120.9 225.6h0M120.8 230.2h0M121.0 229.1h0M122.5 225.7h0M122.9 227.4h0M123.2 228.5h0M126.9 228.5h0M126.7 231.3h0M127.5 227.7h0M129.2 224.9h0M129.3 230.8h0M131.4 227.7h0M135.5 230.9h0M133.3 229.3h0M132.6 230.9h0M133.0 230.7h0M132.6 228.4h0M139.5 226.4h0M136.8 227.2h0M137.4 225.9h0M138.5 230.7h0M139.3 225.0h0M136.9 226.1h0M143.2 228.6h0M140.7 226.4h0M140.9 231.6h0M141.3 228.7h0M143.0 230.3h0M141.4 227.7h0M144.7 229.5h0M147.1 231.1h0M147.1 226.7h0M147.0 224.6h0M147.2 231.2h0M147.2 231.2h0M146.9 227.8h0M147.4 229.4h0M145.3 226.1h0M148.7 225.8h0M150.7 226.8h0M151.0 224.6h0M149.3 224.7h0M150.6 227.6h0M149.4 229.8h0M148.9 230.6h0M149.1 226.1h0M151.1 227.4h0M149.1 228.0h0M150.5 230.1h0M150.7 226.8h0M148.5 230.5h0M151.4 227.9h0M151.5 230.5h0M151.1 224.4h0M122.9 239.4h0M123.0 235.1h0M122.6 237.2h0M123.2 238.2h0M120.6 236.7h0M126.5 238.8h0M127.2 232.3h0M127.4 234.1h0M126.9 234.5h0M128.8 236.3h0M131.4 236.5h0M128.9 238.8h0M129.1 235.8h0M133.2 239.3h0M132.6 237.6h0M133.3 234.1h0M133.3 234.1h0M135.3 237.8h0M139.1 233.3h0M136.7 236.1h0M139.5 233.4h0M138.7 236.4h0M142.5 234.3h0M142.6 233.2h0M140.9 236.4h0M140.8 232.8h0M142.6 234.5h0M141.1 233.2h0M145.0 238.5h0M144.7 239.3h0M146.7 232.3h0M146.6 238.0h0M147.1 238.5h0M147.5 233.3h0M144.8 237.4h0M145.3 236.5h0M151.1 233.7h0M151.4 234.1h0M149.2 233.2h0M151.3 234.6h0M149.2 239.1h0M151.3 236.3h0M150.6 234.9h0M148.7 232.8h0M148.6 237.2h0M148.6 235.7h0M149.4 235.3h0M150.6 235.2h0M148.7 238.1h0M151.3 236.2h0M149.4 232.8h0M150.8 237.8h0M122.9 241.7h0M122.8 244.9h0M121.4 243.6h0M123.4 242.2h0M122.9 242.0h0M125.0 241.7h0M125.0 243.1h0M126.9 241.2h0M125.4 245.2h0M128.8 243.6h0M130.8 246.7h0M131.1 244.9h0M129.4 245.0h0M128.9 247.6h0M134.9 246.4h0M132.9 240.4h0M135.2 245.5h0M132.6 247.5h0M132.8 241.8h0M139.1 243.0h0M136.7 242.6h0M137.1 243.6h0M139.2 244.5h0M136.7 244.9h0M142.8 243.2h0M143.2 240.6h0M143.1 241.8h0M141.3 240.7h0M143.3 246.9h0M141.0 242.5h0M147.0 240.6h0M144.7 241.8h0M144.9 247.1h0M146.9 241.3h0M147.2 242.0h0M144.6 242.7h0M147.1 242.4h0M147.5 242.3h0M149.3 243.7h0M151.3 241.3h0M151.3 240.8h0M151.5 245.3h0M149.1 241.0h0M150.9 244.9h0M150.5 243.6h0M151.3 245.6h0M151.0 244.5h0M148.8 245.7h0M151.1 243.8h0M151.3 247.6h0M150.6 246.7h0M149.1 245.4h0M151.0 243.5h0M149.0 240.6h0M152.8 206.1h0M154.8 205.4h0M153.1 203.6h0M152.8 203.9h0M153.2 201.8h0M154.9 200.5h0M154.8 205.7h0M152.7 205.7h0M152.9 204.7h0M152.8 205.9h0M154.8 206.8h0M155.3 205.3h0M154.8 207.3h0M152.7 202.0h0M153.3 202.2h0M154.5 206.5h0M154.8 204.1h0M154.6 203.0h0M154.8 204.1h0M154.8 204.6h0M155.0 203.0h0M156.8 207.1h0M159.1 203.8h0M159.4 202.1h0M159.1 201.0h0M157.4 200.5h0M156.6 205.3h0M158.9 204.0h0M156.7 204.9h0M159.0 203.8h0M157.2 200.6h0M158.8 203.9h0M157.5 205.0h0M157.4 201.2h0M157.1 202.8h0M157.4 202.8h0M158.7 206.0h0M157.5 206.9h0M156.7 204.0h0M157.2 203.7h0M157.1 201.0h0M156.6 206.1h0M162.9 200.9h0M161.3 200.6h0M163.3 203.7h0M163.3 202.5h0M164.7 201.6h0M165.4 205.3h0M166.7 205.7h0M165.5 200.9h0M165.1 200.4h0M166.9 204.7h0M171.4 203.3h0M171.0 202.3h0M171.5 205.8h0M168.7 200.5h0M170.6 203.4h0M168.9 205.5h0M173.0 204.6h0M172.9 201.3h0M174.7 206.1h0M175.3 201.3h0M174.8 200.9h0M173.0 205.1h0M173.4 204.1h0M173.5 201.9h0M178.7 202.0h0M176.9 200.6h0M179.0 206.8h0M177.3 202.5h0M176.6 205.3h0M179.3 201.5h0M179.1 201.8h0M179.5 201.2h0M176.9 201.2h0M183.1 206.1h0M181.4 205.1h0M183.1 204.0h0M183.1 201.3h0M183.1 200.8h0M181.1 203.0h0M154.8 210.5h0M152.9 210.7h0M152.9 211.6h0M152.9 210.1h0M152.7 208.7h0M155.4 213.3h0M153.4 210.0h0M152.9 214.4h0M154.9 209.2h0M153.3 214.7h0M154.6 212.7h0M155.4 215.5h0M155.2 208.8h0M155.2 211.8h0M152.6 212.7h0M154.9 212.0h0M153.1 211.6h0M153.1 210.7h0M155.1 214.6h0M155.5 213.7h0M152.8 212.8h0M159.4 209.6h0M159.3 211.6h0M159.1 209.6h0M159.0 209.4h0M158.8 212.6h0M158.9 213.7h0M158.8 211.5h0M157.1 211.6h0M157.2 209.6h0M158.9 211.8h0M158.7 211.0h0M156.9 215.1h0M158.7 215.1h0M159.2 211.1h0M159.3 209.3h0M159.5 214.4h0M156.6 213.1h0M158.5 213.6h0M158.7 215.4h0M156.7 214.4h0M158.8 210.1h0M159.3 214.1h0M161.2 214.8h0M161.1 208.5h0M163.4 208.9h0M162.7 211.9h0M163.0 214.6h0M162.8 214.6h0M167.3 212.4h0M165.2 215.3h0M166.8 210.3h0M164.7 214.1h0M165.1 210.9h0M170.8 210.3h0M169.4 215.4h0M170.7 214.8h0M169.1 208.5h0M171.0 211.8h0M171.4 211.8h0M168.9 208.9h0M171.3 208.5h0M169.3 209.3h0M173.0 209.5h0M175.1 212.3h0M174.8 209.3h0M172.9 209.6h0M174.9 212.4h0M172.9 214.2h0M173.0 212.8h0M175.4 215.1h0M173.1 212.8h0M178.8 211.3h0M176.6 213.5h0M179.3 214.8h0M178.6 213.8h0M179.2 211.0h0M179.2 215.1h0M179.0 214.3h0M178.8 213.5h0M177.2 214.8h0M183.2 210.9h0M182.9 209.3h0M181.3 210.6h0M181.2 213.2h0M182.5 214.3h0M183.1 212.3h0M152.6 218.1h0M153.5 219.6h0M153.4 216.7h0M153.2 221.9h0M152.9 222.8h0M152.7 220.2h0M155.5 222.3h0M153.5 222.1h0M154.8 221.7h0M155.4 216.6h0M155.4 221.4h0M154.6 220.7h0M155.5 216.4h0M155.1 220.4h0M152.8 221.6h0M154.9 223.7h0M154.5 217.2h0M152.6 219.3h0M152.8 219.6h0M152.9 220.3h0M155.1 220.2h0M159.5 223.4h0M157.3 216.9h0M157.0 221.6h0M159.4 221.2h0M157.5 217.9h0M156.8 219.3h0M158.6 220.2h0M159.4 222.1h0M159.1 218.5h0M157.0 219.7h0M158.9 217.0h0M158.7 222.7h0M157.4 222.3h0M159.4 218.0h0M159.2 223.6h0M156.8 220.6h0M158.9 221.9h0M158.8 221.6h0M158.6 222.2h0M157.1 222.4h0M157.0 223.6h0M161.4 217.1h0M162.7 219.3h0M163.5 218.2h0M160.6 220.2h0M162.6 220.4h0M167.4 218.2h0M164.8 216.5h0M166.8 219.0h0M169.1 220.2h0M170.6 223.1h0M169.0 218.2h0M168.6 216.9h0M170.9 218.0h0M169.4 220.2h0M175.5 221.7h0M174.9 220.4h0M172.6 223.5h0M172.6 223.1h0M174.8 219.3h0M174.9 216.3h0M173.3 220.3h0M172.8 222.3h0M173.2 223.6h0M178.8 216.7h0M178.7 220.7h0M178.7 216.9h0M176.6 217.9h0M179.1 217.1h0M178.8 219.8h0M177.3 219.8h0M176.8 222.2h0M177.0 221.3h0M182.6 221.8h0M183.4 216.9h0M183.0 219.8h0M181.1 219.4h0M181.4 218.4h0M152.8 225.9h0M152.7 229.4h0M155.0 228.0h0M152.7 226.9h0M154.6 226.6h0M154.7 227.7h0M154.5 224.8h0M153.0 225.7h0M152.7 230.6h0M154.8 225.9h0M153.0 226.2h0M153.4 231.4h0M152.5 226.5h0M152.5 231.4h0M155.2 226.9h0M153.4 229.7h0M154.6 224.6h0M154.8 226.3h0M154.5 226.8h0M154.5 230.0h0M153.4 230.3h0M153.0 230.6h0M159.3 230.1h0M156.8 227.2h0M156.9 225.9h0M159.1 229.4h0M159.2 231.5h0M157.5 230.0h0M156.6 229.9h0M156.7 231.7h0M159.5 224.7h0M159.2 228.0h0M158.7 226.5h0M157.3 226.8h0M158.7 227.6h0M156.8 230.6h0M159.1 227.3h0M158.6 225.0h0M159.0 227.9h0M157.2 228.9h0M156.5 225.2h0M157.1 227.4h0M156.8 225.4h0M163.4 225.6h0M163.5 227.8h0M162.7 226.0h0M163.4 228.6h0M167.1 229.7h0M164.6 231.6h0M165.3 225.5h0M170.9 230.4h0M170.5 226.2h0M169.4 225.3h0M170.9 226.7h0M169.0 226.6h0M171.2 229.1h0M169.4 227.7h0M169.3 227.9h0M168.6 228.0h0M172.5 225.7h0M173.1 228.9h0M175.0 229.2h0M173.3 230.7h0M174.6 230.0h0M172.9 225.2h0M174.8 225.8h0M175.1 229.3h0M172.8 227.3h0M175.3 225.7h0M173.4 225.4h0M177.0 230.6h0M177.0 231.4h0M176.7 225.4h0M177.0 229.4h0M179.2 224.9h0M176.6 231.2h0M176.5 225.0h0M176.6 227.0h0M183.0 226.8h0M183.1 228.4h0M181.3 228.3h0M181.5 229.9h0M154.9 234.0h0M154.7 237.6h0M155.3 235.4h0M155.2 239.6h0M155.3 234.3h0M155.2 232.6h0M154.9 232.5h0M154.7 238.5h0M154.6 235.9h0M153.4 235.6h0M155.0 234.4h0M154.9 233.3h0M153.1 232.9h0M154.8 234.9h0M154.8 235.3h0M152.6 239.4h0M154.7 234.7h0M153.5 235.6h0M153.1 236.7h0M152.8 232.6h0M153.0 236.6h0M158.9 237.1h0M158.9 236.0h0M156.8 238.9h0M157.0 233.6h0M157.4 235.8h0M157.5 236.0h0M159.3 233.2h0M156.9 238.3h0M158.6 238.8h0M158.8 233.4h0M158.6 238.4h0M157.1 238.7h0M156.7 234.3h0M156.6 234.2h0M157.0 236.8h0M157.5 236.7h0M156.8 237.0h0M161.1 239.1h0M162.6 232.4h0M161.2 236.3h0M162.8 239.2h0M161.4 239.6h0M160.7 234.2h0M164.6 236.0h0M165.4 235.6h0M164.8 234.7h0M167.3 233.7h0M167.5 235.3h0M170.6 237.9h0M171.5 233.5h0M168.7 232.7h0M169.2 238.0h0M170.6 237.5h0M169.0 233.0h0M171.3 233.0h0M171.2 233.2h0M172.7 236.7h0M173.5 238.7h0M173.1 238.2h0M175.5 234.1h0M174.6 233.9h0M172.5 233.3h0M173.5 232.9h0M172.8 234.3h0M172.6 234.8h0M173.1 236.8h0M172.7 233.7h0M175.3 236.1h0M176.7 232.7h0M176.8 237.7h0M179.0 234.9h0M177.1 234.1h0M179.4 235.0h0M179.0 235.1h0M178.7 236.6h0M179.1 232.4h0M176.5 236.1h0M183.3 235.8h0M180.8 234.2h0M181.0 234.0h0M182.7 234.7h0M181.3 239.0h0M152.8 244.6h0M152.5 246.8h0M154.8 243.6h0M154.7 243.0h0M153.2 244.6h0M152.6 244.1h0M152.8 245.1h0M155.4 244.4h0M155.0 244.1h0M154.5 240.7h0M154.9 242.7h0M152.6 240.4h0M154.9 242.1h0M152.6 240.5h0M155.1 245.1h0M152.5 243.6h0M153.1 240.6h0M153.2 241.0h0M152.7 246.5h0M152.8 247.4h0M154.8 241.4h0M158.5 240.8h0M159.4 241.1h0M158.7 242.8h0M157.4 245.6h0M157.4 246.0h0M157.3 244.6h0M159.4 243.9h0M156.8 247.0h0M157.0 242.7h0M159.2 243.7h0M159.4 242.6h0M156.7 242.5h0M159.2 240.8h0M159.0 240.7h0M158.6 241.0h0M157.4 246.1h0M163.0 245.2h0M160.6 243.8h0M162.8 241.1h0M163.0 243.1h0M161.2 243.1h0M163.5 247.0h0M162.7 246.6h0M165.2 244.8h0M166.8 246.3h0M164.8 243.3h0M167.1 246.0h0M167.0 244.3h0M166.6 242.9h0M165.0 244.0h0M169.3 240.8h0M169.4 247.0h0M170.8 244.1h0M168.6 242.5h0M169.5 245.9h0M171.5 246.6h0M169.2 244.7h0M168.6 247.3h0M168.9 243.4h0M175.4 242.7h0M173.3 244.4h0M173.0 241.7h0M175.0 247.7h0M172.7 245.0h0M172.8 244.1h0M172.6 246.7h0M175.3 246.2h0M175.2 244.4h0M173.4 240.8h0M175.4 246.1h0M176.6 243.7h0M177.1 241.6h0M178.9 240.8h0M177.1 243.6h0M179.3 244.4h0M179.5 241.8h0M177.3 243.5h0M176.9 247.0h0M177.5 244.4h0M182.6 243.7h0M182.8 246.2h0M182.6 244.1h0M181.3 247.1h0M181.2 240.6h0M182.7 247.2h0M184.8 204.2h0M187.4 203.9h0M186.8 203.7h0M187.2 205.1h0M186.9 202.5h0M186.6 201.7h0M190.7 206.5h0M189.3 203.7h0M190.6 200.8h0M190.9 204.8h0M195.2 206.6h0M195.4 203.1h0M192.6 206.0h0M194.8 207.6h0M194.5 206.7h0M193.2 204.1h0M195.5 206.8h0M193.3 200.5h0M199.4 204.9h0M198.9 203.4h0M197.2 204.0h0M196.6 206.7h0M199.3 205.1h0M197.3 201.8h0M197.1 202.7h0M196.7 207.2h0M196.9 204.1h0M197.3 202.0h0M196.5 200.9h0M198.9 204.1h0M203.2 200.6h0M200.9 205.5h0M202.5 207.3h0M203.4 200.7h0M201.0 201.3h0M201.5 204.0h0M202.5 201.5h0M201.5 205.2h0M200.5 207.4h0M204.7 207.3h0M204.7 203.3h0M205.1 203.7h0M205.2 201.6h0M207.1 205.6h0M207.0 200.6h0M208.8 207.0h0M209.4 202.8h0M209.2 206.5h0M211.4 202.5h0M211.2 204.3h0M208.5 200.4h0M213.0 201.2h0M213.4 202.0h0M212.9 205.9h0M215.3 200.5h0M215.4 204.1h0M186.7 209.7h0M185.3 211.6h0M185.0 210.9h0M185.1 212.2h0M184.9 211.8h0M185.0 214.7h0M191.1 215.5h0M188.9 210.5h0M190.9 211.4h0M189.4 211.5h0M195.3 209.9h0M194.8 212.3h0M192.7 208.8h0M192.9 215.2h0M193.0 208.6h0M195.4 210.7h0M194.7 215.7h0M193.3 209.1h0M197.1 209.0h0M198.8 213.8h0M197.4 212.8h0M196.9 208.9h0M196.6 211.4h0M199.5 214.0h0M197.3 210.4h0M198.8 208.9h0M196.7 214.5h0M196.5 213.7h0M199.4 212.4h0M200.7 208.6h0M200.7 213.9h0M201.2 209.9h0M202.6 211.8h0M202.9 209.1h0M200.7 215.1h0M201.1 212.2h0M200.7 209.2h0M207.1 210.7h0M207.1 214.4h0M204.9 210.4h0M207.1 210.1h0M207.1 215.4h0M206.6 210.5h0M208.6 214.3h0M211.2 210.7h0M211.0 212.4h0M212.8 212.7h0M215.0 209.5h0M215.4 211.0h0M186.8 221.9h0M185.2 223.4h0M187.2 218.4h0M186.6 222.4h0M184.8 221.6h0M187.4 216.8h0M188.5 220.3h0M189.0 223.0h0M195.1 221.7h0M195.1 220.1h0M193.5 220.0h0M193.3 221.5h0M193.0 220.5h0M193.4 218.5h0M199.0 216.9h0M199.0 217.4h0M199.3 222.2h0M196.8 223.2h0M199.0 221.2h0M199.2 217.1h0M202.9 216.9h0M201.1 221.0h0M201.3 221.6h0M201.2 216.6h0M201.1 221.4h0M205.4 222.3h0M207.1 217.3h0M205.4 216.9h0M204.6 221.2h0M207.4 217.3h0M211.3 220.6h0M187.0 228.8h0M187.5 226.6h0M187.4 231.5h0M184.7 231.6h0M184.8 227.0h0M187.2 224.8h0M187.4 228.5h0M191.0 228.3h0M190.8 226.3h0M193.0 224.5h0M192.6 227.0h0M195.5 226.5h0M193.3 225.9h0M199.3 228.5h0M197.3 228.1h0M196.6 229.5h0M201.1 227.9h0M201.2 226.5h0M202.6 224.6h0M202.7 231.1h0M205.1 227.4h0M205.3 226.5h0M206.7 227.8h0M204.9 231.6h0M184.6 238.9h0M185.1 235.9h0M186.8 236.1h0M185.0 235.2h0M184.7 236.1h0M185.0 236.1h0M189.0 238.1h0M190.6 234.2h0M194.7 239.4h0M197.2 235.0h0M198.7 237.0h0M203.0 233.1h0M203.2 235.8h0M202.9 235.0h0M203.4 239.1h0M205.4 233.3h0M204.7 234.8h0M187.0 245.6h0M186.7 242.7h0M184.8 240.5h0M185.3 246.8h0M187.4 242.1h0M186.6 247.5h0M185.0 240.7h0M191.1 245.7h0M189.3 242.0h0M200.7 242.1h0M216.7 206.6h0M217.4 206.1h0M218.7 200.8h0M216.6 204.9h0M221.0 206.2h0M223.2 200.6h0M221.0 206.0h0M227.2 206.2h0M224.7 205.7h0M231.2 201.5h0M228.7 200.6h0M231.2 200.4h0M231.4 201.3h0M231.4 205.1h0M231.3 203.9h0M228.7 204.0h0M234.5 206.7h0M233.4 203.7h0M232.6 201.9h0M233.3 203.2h0M233.4 205.5h0M235.2 202.9h0M232.5 201.7h0M235.2 205.9h0M233.3 201.4h0M236.7 201.0h0M239.4 207.7h0M239.1 207.0h0M236.8 200.7h0M239.0 200.8h0M239.2 200.9h0M241.1 205.9h0M243.0 206.3h0M240.7 203.4h0M243.4 204.4h0M242.9 205.2h0M240.6 200.8h0M244.6 202.5h0M247.0 200.5h0M244.7 201.7h0M244.6 203.8h0M247.3 206.2h0M244.6 204.7h0M245.3 201.1h0M247.4 202.2h0M245.1 202.2h0M218.6 211.2h0M218.6 209.1h0M223.3 213.7h0M224.7 210.0h0M228.8 215.2h0M228.5 214.8h0M228.6 210.9h0M229.4 211.6h0M228.5 214.1h0M234.6 208.9h0M235.1 213.4h0M233.5 210.9h0M232.8 214.4h0M235.4 215.3h0M232.7 212.5h0M238.9 214.8h0M239.0 208.3h0M238.7 214.6h0M239.1 210.8h0M239.2 209.4h0M238.9 212.2h0M242.7 214.1h0M242.8 213.9h0M243.1 213.4h0M240.6 211.7h0M240.6 215.2h0M243.2 214.6h0M242.6 212.8h0M241.1 210.0h0M243.4 208.4h0M245.0 211.4h0M245.2 211.3h0M246.8 215.7h0M247.2 209.6h0M245.3 211.9h0M247.5 214.9h0M246.7 208.4h0M246.6 213.0h0M227.1 216.8h0M231.0 217.5h0M228.9 218.3h0M231.5 217.3h0M234.8 223.2h0M233.5 217.0h0M234.6 221.3h0M233.3 216.7h0M234.9 217.6h0M234.7 221.7h0M232.6 217.3h0M238.5 217.4h0M238.7 218.2h0M236.8 219.8h0M237.0 218.6h0M240.5 219.9h0M241.1 217.6h0M241.3 221.3h0M247.5 222.2h0M246.8 218.3h0M246.6 223.1h0M245.2 223.3h0M245.2 220.7h0M244.7 220.5h0M230.6 228.4h0M231.0 226.8h0M234.8 229.6h0M232.9 230.1h0M234.8 229.6h0M236.7 226.3h0M236.8 231.7h0M239.1 229.6h0M237.0 225.3h0M243.2 225.4h0M242.6 229.9h0M240.9 230.6h0M245.4 226.1h0M247.0 226.0h0M246.5 224.6h0M244.9 228.4h0M247.0 230.5h0M229.2 239.1h0M232.8 239.1h0M234.6 233.9h0M239.0 236.5h0M239.1 237.5h0M238.9 237.3h0M242.7 237.0h0M243.3 234.3h0M247.1 235.8h0M247.5 236.0h0M244.9 232.5h0M247.1 238.4h0M247.5 236.6h0M232.6 245.4h0M236.7 243.9h0M243.2 244.1h0M243.1 240.9h0M243.0 242.6h0M242.9 246.6h0M245.0 241.5h0M247.2 247.6h0M244.7 245.4h0M246.6 242.3h0M247.0 240.8h0M244.9 247.3h0M246.6 242.0h0M245.0 246.5h0M245.2 240.4h0M250.6 203.5h0M251.0 205.5h0M248.9 205.1h0M249.0 201.4h0M249.4 201.3h0M248.7 207.7h0M253.2 202.5h0M253.2 206.2h0M254.8 202.5h0M253.5 204.9h0M255.1 201.9h0M258.9 201.9h0M259.1 203.8h0M257.5 203.8h0M262.8 205.6h0M263.3 205.5h0M261.4 207.4h0M262.7 202.8h0M262.9 200.3h0M260.8 207.2h0M267.3 200.4h0M267.0 201.0h0M267.3 201.5h0M267.0 203.8h0M267.2 206.9h0M266.8 206.0h0M267.2 206.4h0M268.9 202.9h0M271.4 204.5h0M271.4 200.8h0M269.5 205.6h0M269.3 203.4h0M268.7 204.3h0M269.2 201.9h0M275.3 206.3h0M275.5 204.9h0M272.7 200.6h0M274.8 205.3h0M275.3 206.6h0M272.8 200.3h0M277.1 206.4h0M279.0 203.2h0M279.2 206.5h0M279.3 202.4h0M278.7 201.8h0M276.7 200.9h0M251.4 209.3h0M251.4 214.1h0M250.6 212.2h0M251.2 213.2h0M249.3 213.5h0M250.7 212.3h0M255.1 215.6h0M253.2 211.1h0M253.1 208.9h0M255.2 212.4h0M254.5 215.5h0M258.9 210.1h0M260.5 212.9h0M263.5 214.1h0M267.3 210.6h0M266.6 214.2h0M266.8 212.2h0M265.0 208.8h0M270.9 213.3h0M268.8 211.4h0M271.2 209.3h0M268.8 210.8h0M271.4 213.4h0M275.2 215.2h0M275.4 208.6h0M275.1 212.1h0M275.5 215.2h0M279.1 212.3h0M278.8 211.5h0M279.4 208.9h0M249.1 217.9h0M249.1 222.0h0M249.1 221.1h0M249.1 221.3h0M253.1 223.2h0M254.9 219.7h0M253.2 220.9h0M254.6 219.2h0M263.0 220.6h0M267.3 221.6h0M267.0 218.4h0M265.5 223.3h0M265.0 219.0h0M268.6 217.0h0M271.3 219.7h0M269.4 218.7h0M269.0 222.4h0M269.3 218.2h0M272.7 217.7h0M272.6 217.2h0M273.2 220.9h0M276.6 223.1h0M278.7 216.5h0M277.4 223.5h0M251.0 224.4h0M250.9 230.4h0M248.7 227.3h0M249.5 230.3h0M249.2 230.8h0M253.4 231.4h0M253.1 229.9h0M261.1 228.4h0M261.4 230.6h0M267.3 227.1h0M266.6 226.2h0M268.8 226.9h0M269.2 227.5h0M269.2 226.4h0M272.9 231.5h0M275.1 229.0h0M274.6 230.1h0M278.9 230.0h0M277.5 228.4h0M251.1 233.2h0M251.2 232.5h0M251.3 233.7h0M248.9 234.6h0M255.3 235.4h0M254.5 239.1h0M267.4 234.7h0M271.2 237.1h0M269.1 238.4h0M272.8 238.7h0M272.8 239.2h0M279.1 235.7h0M276.8 238.9h0M279.1 239.3h0M277.2 236.3h0M248.5 243.5h0M249.1 242.9h0M250.5 243.3h0M248.9 244.3h0M249.1 245.9h0M249.2 243.0h0M251.2 241.5h0M255.0 246.4h0M255.2 240.9h0M260.9 241.5h0M265.0 244.3h0M272.7 247.2h0M276.7 244.9h0M279.1 241.7h0M278.9 246.7h0M277.3 243.2h0M71.0 255.0h0M73.1 254.1h0M74.9 251.9h0M74.6 254.4h0M74.7 250.6h0M72.8 250.9h0M73.3 255.7h0M73.1 253.5h0M74.6 255.0h0M77.3 250.3h0M77.1 252.7h0M76.5 248.8h0M79.2 254.1h0M76.7 251.7h0M78.7 250.9h0M76.9 252.6h0M77.0 254.5h0M77.4 251.5h0M79.3 253.6h0M79.4 253.9h0M77.2 255.3h0M77.2 249.4h0M79.2 254.0h0M77.5 254.8h0M78.8 250.7h0M79.3 251.4h0M80.9 254.6h0M80.7 248.4h0M82.9 254.2h0M73.0 263.3h0M73.1 259.0h0M73.1 259.1h0M77.5 263.4h0M78.9 259.9h0M78.8 258.7h0M78.6 262.9h0M77.1 259.3h0M79.1 263.4h0M78.9 261.6h0M77.5 258.8h0M81.3 259.3h0M81.3 258.0h0M96.7 252.6h0M97.4 253.9h0M99.0 249.6h0M96.8 250.9h0M101.3 250.2h0M100.6 250.9h0M100.7 251.2h0M100.9 249.7h0M100.6 255.0h0M104.9 252.9h0M107.3 250.6h0M105.4 252.7h0M106.9 250.7h0M105.4 249.5h0M107.2 253.7h0M107.0 251.7h0M111.0 248.8h0M110.7 250.3h0M111.2 255.1h0M111.2 250.8h0M108.8 253.6h0M110.9 254.7h0M113.2 251.7h0M112.8 252.5h0M114.6 254.7h0M112.6 254.9h0M115.2 254.6h0M114.7 253.2h0M112.5 251.4h0M112.5 248.3h0M118.6 252.5h0M119.0 248.8h0M119.4 254.0h0M118.8 249.8h0M117.3 251.5h0M119.2 249.1h0M117.2 249.1h0M119.2 250.7h0M98.8 260.4h0M98.9 258.0h0M102.8 259.8h0M103.0 261.7h0M100.9 259.6h0M103.0 257.5h0M102.8 260.4h0M105.3 260.5h0M104.6 262.5h0M104.8 261.9h0M106.9 260.0h0M109.3 261.5h0M110.8 256.4h0M111.2 259.5h0M110.5 262.9h0M111.1 259.7h0M108.5 259.3h0M114.8 261.3h0M114.9 257.2h0M112.9 259.8h0M114.8 263.2h0M113.0 261.9h0M114.8 259.8h0M113.2 258.5h0M118.6 258.5h0M116.9 258.0h0M117.2 258.4h0M119.3 262.2h0M117.2 256.7h0M119.1 260.8h0M118.6 256.9h0M116.9 260.0h0M119.1 263.0h0M103.2 264.4h0M106.6 268.0h0M106.8 264.4h0M104.7 268.7h0M109.0 264.6h0M111.4 265.7h0M110.7 265.0h0M114.6 265.1h0M113.2 267.0h0M112.6 265.2h0M114.7 267.6h0M113.2 269.4h0M116.6 264.6h0M116.6 266.3h0M119.4 270.4h0M116.8 264.8h0M117.0 271.1h0M118.5 270.1h0M111.5 275.5h0M114.7 278.2h0M114.8 279.5h0M118.9 276.9h0M119.2 274.3h0M118.9 279.5h0M119.3 279.3h0M112.9 285.2h0M113.2 282.2h0M117.4 283.4h0M121.5 251.8h0M121.1 250.3h0M121.3 251.4h0M123.3 249.3h0M123.5 249.1h0M121.1 250.8h0M122.9 254.5h0M123.2 252.5h0M122.7 250.6h0M125.0 251.7h0M126.7 248.5h0M125.1 252.3h0M127.0 255.5h0M124.9 250.8h0M126.9 249.9h0M125.2 252.1h0M127.4 250.0h0M127.4 255.6h0M125.2 253.3h0M125.3 250.0h0M130.8 252.2h0M128.5 250.1h0M128.8 254.4h0M129.2 249.6h0M128.7 254.5h0M130.9 253.9h0M131.2 249.7h0M131.1 253.1h0M129.3 250.1h0M129.5 252.4h0M130.7 253.7h0M134.6 254.7h0M133.2 254.1h0M134.9 255.2h0M135.0 252.2h0M133.0 249.4h0M132.5 253.5h0M135.1 251.3h0M134.8 251.8h0M132.6 249.1h0M134.9 250.5h0M134.9 252.3h0M139.3 253.4h0M139.3 255.1h0M136.7 250.0h0M139.2 252.3h0M138.7 248.5h0M138.9 249.3h0M136.7 254.2h0M143.4 248.7h0M140.8 251.7h0M141.1 251.0h0M144.6 251.4h0M144.5 254.5h0M148.7 252.4h0M148.5 255.1h0M122.9 259.5h0M120.7 261.0h0M120.8 263.0h0M121.4 257.6h0M122.8 260.0h0M120.7 258.2h0M124.6 259.8h0M126.9 257.3h0M127.2 256.9h0M126.8 258.1h0M127.4 258.9h0M125.5 263.4h0M124.8 260.8h0M125.5 259.1h0M131.1 260.9h0M131.1 262.0h0M128.6 260.6h0M131.3 260.4h0M131.3 260.8h0M129.2 262.2h0M130.9 256.4h0M131.1 259.4h0M129.0 259.5h0M129.2 257.7h0M130.6 260.2h0M133.4 259.4h0M134.6 260.7h0M135.1 263.1h0M133.2 258.9h0M135.1 260.7h0M134.8 261.4h0M134.8 263.0h0M135.0 256.5h0M136.9 257.2h0M139.2 256.7h0M136.6 258.8h0M139.4 256.9h0M137.1 259.8h0M136.8 263.4h0M140.6 260.8h0M143.2 263.1h0M142.7 260.7h0M145.3 263.1h0M151.0 262.2h0M151.4 259.5h0M120.9 268.7h0M122.8 270.9h0M121.1 266.5h0M121.0 268.7h0M123.5 271.4h0M127.0 269.3h0M127.3 269.3h0M127.2 266.8h0M124.8 265.7h0M126.8 265.9h0M127.0 270.3h0M124.7 267.4h0M131.1 268.3h0M129.0 267.7h0M129.3 271.2h0M130.9 268.3h0M131.3 264.9h0M128.8 271.1h0M129.5 266.8h0M129.5 270.2h0M129.3 265.9h0M134.8 268.8h0M133.5 268.5h0M135.3 266.7h0M135.2 269.3h0M134.6 267.4h0M134.7 265.0h0M132.7 266.4h0M134.6 268.2h0M139.0 268.4h0M138.5 267.9h0M138.6 269.4h0M136.6 266.4h0M142.6 271.1h0M141.3 267.6h0M123.4 274.6h0M121.4 278.0h0M126.9 274.0h0M125.2 275.6h0M127.2 275.2h0M126.8 274.6h0M129.5 274.7h0M128.7 274.7h0M131.1 273.4h0M128.6 274.3h0M134.9 272.8h0M133.2 278.3h0M133.3 276.7h0M138.8 275.4h0M139.2 277.3h0M138.7 273.0h0M121.1 285.2h0M127.4 286.2h0M154.9 253.1h0M153.1 250.6h0M153.1 255.2h0M152.9 250.2h0M155.1 249.0h0M153.3 248.7h0M153.0 253.3h0M154.5 248.8h0M152.6 254.3h0M155.2 251.6h0M154.8 252.2h0M154.8 250.8h0M159.3 251.3h0M158.9 248.5h0M156.9 252.2h0M156.6 250.4h0M159.4 250.8h0M157.4 252.2h0M158.7 250.0h0M156.7 250.0h0M159.1 250.9h0M163.2 250.5h0M163.2 255.5h0M161.1 250.0h0M161.4 251.1h0M160.8 250.9h0M163.5 255.7h0M163.0 252.0h0M165.4 254.2h0M167.0 255.2h0M164.7 254.0h0M164.6 255.0h0M167.0 253.8h0M167.0 252.1h0M166.7 250.8h0M167.4 250.6h0M171.4 254.1h0M169.3 249.7h0M171.4 249.1h0M168.7 251.9h0M169.0 251.3h0M170.8 249.7h0M170.7 248.6h0M174.9 254.0h0M175.2 254.3h0M172.7 254.3h0M173.4 255.0h0M174.8 251.1h0M175.2 253.3h0M174.8 253.8h0M173.3 252.2h0M179.1 255.6h0M178.9 255.6h0M178.6 253.8h0M177.5 253.4h0M178.9 253.5h0M177.4 253.8h0M179.1 254.9h0M178.9 251.2h0M177.0 255.2h0M181.2 253.9h0M183.1 250.1h0M182.9 255.0h0M180.8 253.1h0M180.6 254.5h0M183.2 255.7h0M183.4 254.0h0M183.1 251.2h0M183.1 251.7h0M152.8 257.1h0M155.2 258.2h0M154.9 259.3h0M155.2 259.7h0M154.7 261.3h0M155.0 261.0h0M153.5 257.1h0M158.8 256.9h0M158.8 260.8h0M158.7 260.9h0M161.1 259.3h0M162.9 260.3h0M163.2 263.4h0M163.0 259.5h0M162.6 259.8h0M163.1 256.9h0M167.0 260.9h0M164.7 261.6h0M166.9 259.7h0M164.7 262.2h0M164.8 260.5h0M166.5 260.3h0M167.5 263.0h0M166.8 258.7h0M168.9 258.5h0M168.6 258.5h0M169.0 263.5h0M168.6 257.2h0M169.0 258.6h0M174.9 263.2h0M175.4 259.1h0M173.3 261.3h0M173.5 260.2h0M174.8 262.4h0M172.5 261.0h0M173.0 263.3h0M177.5 258.8h0M177.4 257.4h0M177.0 259.6h0M177.5 259.5h0M178.7 258.1h0M178.5 258.6h0M178.6 258.5h0M178.9 261.2h0M181.4 261.7h0M182.6 256.6h0M180.8 257.6h0M180.6 258.4h0M183.2 258.4h0M182.8 260.6h0M181.4 263.2h0M152.9 266.2h0M156.8 269.0h0M161.0 268.4h0M163.0 270.8h0M163.5 264.7h0M162.8 268.7h0M163.2 264.9h0M162.7 269.1h0M165.4 264.9h0M167.4 264.7h0M164.8 270.3h0M167.1 265.0h0M167.3 269.7h0M164.7 266.0h0M164.6 264.9h0M164.8 265.5h0M171.4 264.8h0M170.6 267.3h0M171.2 269.0h0M173.4 269.6h0M175.3 264.7h0M173.0 266.0h0M175.3 264.8h0M178.5 265.5h0M178.8 270.2h0M176.7 269.4h0M178.7 267.5h0M176.7 265.6h0M178.9 266.2h0M180.6 266.2h0M182.7 269.7h0M180.6 264.6h0M181.1 268.6h0M181.5 267.0h0M161.5 272.9h0M161.5 279.0h0M160.8 276.3h0M163.0 279.0h0M160.7 275.7h0M160.8 275.7h0M163.3 276.3h0M161.0 272.4h0M167.0 275.2h0M164.6 278.5h0M167.5 277.3h0M165.2 274.2h0M165.5 276.9h0M166.7 274.3h0M166.6 278.7h0M167.0 276.0h0M168.8 276.0h0M168.8 276.6h0M173.0 278.5h0M173.1 276.0h0M172.6 272.4h0M174.7 274.4h0M176.6 277.3h0M178.7 272.8h0M177.3 277.4h0M176.6 277.2h0M182.7 275.9h0M182.6 272.7h0M183.1 276.9h0M161.5 285.8h0M160.7 285.3h0M163.4 280.3h0M161.0 284.0h0M165.1 280.7h0M165.2 287.0h0M165.2 285.0h0M168.6 284.4h0M170.5 287.4h0M175.3 281.3h0M173.1 283.6h0M176.9 281.7h0M178.9 283.4h0M182.6 283.6h0M181.1 285.7h0M173.4 295.0h0M177.1 292.1h0M181.2 289.8h0M185.3 250.4h0M187.0 250.8h0M184.7 251.1h0M240.8 253.2h0M243.4 253.5h0M241.3 250.7h0M246.5 250.5h0M245.2 254.9h0M247.3 249.8h0M247.3 250.8h0M246.7 251.5h0M245.2 250.2h0M247.1 254.0h0M245.4 253.0h0M245.0 251.6h0M244.5 255.1h0M244.8 248.8h0M246.6 250.1h0M240.6 260.4h0M241.5 258.4h0M245.1 260.8h0M245.4 260.2h0M244.8 258.0h0M244.8 258.4h0M245.2 261.6h0M246.8 256.5h0M250.7 255.4h0M248.5 255.3h0M248.8 255.6h0M248.5 249.9h0M253.4 253.1h0M253.1 249.3h0M250.6 263.6h0M248.7 259.0h0M248.8 263.2h0M252.8 261.7h0M64.3 127.8h0M64.3 129.6h0M64.3 132.6h0M65.0 143.3h0M65.0 145.5h0M64.6 150.5h0M66.2 151.2h0M69.8 151.0h0M74.0 150.8h0M76.2 150.1h0M165.2 150.5h0M187.0 147.0h0M236.7 133.0h0M236.7 137.0h0M236.7 141.0h0M236.7 145.0h0M236.7 149.0h0M246.0 139.0h0M247.0 144.0h0M246.0 149.0h0M254.0 116.4h0M293.5 119.2h0M289.4 128.1h0M293.2 131.9h0M260.8 133.4h0M273.6 118.3h0M273.6 122.4h0M273.6 126.6h0M273.6 131.1h0M273.6 136.4h0M255.5 137.1h0M257.0 140.9h0M254.0 143.9h0M258.5 143.9h0M251.0 147.7h0M254.8 149.2h0M250.3 150.7h0M290.9 148.4h0M310.5 146.9h0M247.4 144.8h0M259.2 145.7h0M256.3 149.7h0M261.2 150.7h0M246.4 151.5h0M373.8 92.0h0M372.3 95.8h0M373.8 96.9h0M375.3 95.0h0M377.6 95.5h0M370.0 105.6h0M375.6 105.6h0M395.6 116.6h0M370.3 119.2h0M372.2 118.8h0M377.6 121.0h0M379.8 121.0h0M377.6 127.4h0M377.3 132.4h0M368.0 133.9h0M368.0 138.5h0M366.2 143.2h0M379.3 144.4h0M398.6 137.8h0M398.9 139.3h0M366.2 155.5h0M396.7 155.5h0M370.0 160.9h0M398.3 167.4h0M397.0 175.5h0M391.6 186.0h0M377.7 190.1h0M397.5 195.2h0M396.6 201.7h0M361.5 167.9h0M363.1 169.4h0M361.5 171.0h0M313.9 142.9h0M329.9 141.8h0M335.9 141.0h0M342.1 146.1h0M348.7 139.5h0M350.6 141.8h0M353.4 141.8h0M348.7 143.7h0M353.4 147.0h0M355.3 149.9h0M356.2 146.1h0M329.9 148.9h0M331.8 150.4h0M339.3 150.8h0M342.1 153.6h0M313.9 152.7h0M313.9 156.1h0M324.2 159.3h0M327.1 156.5h0M352.5 151.8h0M350.6 155.5h0M358.1 156.5h0M344.0 162.1h0M346.8 161.2h0M350.6 161.2h0M352.5 162.1h0M358.1 160.2h0M359.1 164.0h0M336.5 162.1h0M337.4 164.9h0M314.8 161.2h0M318.6 163.1h0M324.2 164.9h0M327.1 165.9h0M330.8 164.9h0M336.5 157.4h0M368.5 133.9h0M368.5 138.6h0M366.6 155.5h0M369.4 161.2h0M369.4 105.6h0M375.1 105.6h0M315.0 166.8h0M323.3 166.8h0M361.7 167.5h0M364.0 169.8h0M361.7 172.0h0M364.7 177.3h0M363.2 182.6h0M361.7 184.8h0M313.5 172.0h0M316.5 174.3h0M314.3 177.3h0M318.0 172.0h0M318.8 175.8h0M312.8 181.1h0M317.3 182.6h0M321.8 171.3h0M324.8 174.3h0M327.1 172.0h0M324.0 178.1h0M322.5 182.6h0M325.6 184.8h0M327.1 187.1h0M330.1 168.3h0M332.3 170.5h0M333.8 173.6h0M334.6 171.3h0M331.6 175.1h0M334.5 178.0h0M334.7 180.0h0M334.9 182.0h0M335.1 184.0h0M335.2 186.0h0M335.3 188.0h0M330.1 179.6h0M330.8 187.9h0M339.9 171.3h0M340.6 167.5h0M345.9 169.8h0M348.9 170.5h0M345.1 175.1h0M346.6 178.8h0M348.9 175.1h0M343.6 172.8h0M318.0 192.4h0M318.8 195.4h0M323.3 194.6h0M328.6 195.4h0M330.8 192.4h0M333.1 195.4h0M317.3 200.7h0M319.5 199.9h0M333.1 200.7h0M343.6 199.9h0M321.8 204.4h0M325.6 204.4h0M323.3 208.2h0M327.1 208.9h0M333.1 206.7h0M362.5 192.4h0M362.5 205.9h0M294.2 157.4h0M303.6 160.1h0M305.0 158.7h0M309.7 157.4h0M293.5 169.5h0M297.5 170.9h0M300.2 170.2h0M304.3 169.5h0M307.7 172.2h0M292.8 176.3h0M298.9 175.6h0M300.2 177.0h0M307.0 177.6h0M294.2 182.4h0M295.5 184.4h0M298.9 180.3h0M300.2 182.4h0M311.0 180.3h0M309.0 185.1h0M297.5 188.4h0M294.8 191.8h0M302.9 192.5h0M304.3 193.8h0M305.6 195.2h0M298.9 195.2h0M301.6 196.5h0M288.1 195.2h0M289.4 197.9h0M311.0 193.8h0M288.8 197.3h0M297.5 197.8h0M300.2 198.0h0M304.3 199.0h0M297.5 205.4h0M303.0 206.1h0M305.0 204.8h0M307.7 202.1h0M307.0 206.8h0M308.3 208.1h0M307.0 210.2h0M280.7 212.2h0M281.0 214.9h0M292.1 213.5h0M303.6 214.2h0M302.9 216.2h0M302.9 220.3h0M302.3 227.7h0M261.5 228.3h0M264.2 240.5h0M253.6 245.4h0M253.6 248.8h0M263.0 241.3h0M276.4 243.9h0M293.1 175.3h0M297.9 171.8h0M305.1 177.7h0M311.0 173.0h0M315.8 177.7h0M313.4 187.3h0M318.2 189.7h0M327.7 184.9h0M303.9 192.1h0M117.6 299.4h0M130.1 287.1h0M122.0 279.0h0M125.4 278.4h0M116.0 283.6h0M117.0 280.0h0M77.6 268.2h0M79.6 268.6h0M81.0 267.0h0M77.6 277.0h0M68.1 248.5h0M236.6 152.0h0M237.1 155.4h0M236.6 158.4h0M237.0 161.9h0M236.8 164.1h0M236.9 167.2h0M236.6 171.1h0M236.6 174.8h0M236.4 177.4h0M237.1 181.3h0M236.9 185.2h0M236.9 188.9h0M236.6 191.2h0M236.7 193.8h0M237.1 197.1h0M247.9 207.8h0M247.4 209.2h0M247.4 210.3h0M247.8 211.9h0M247.3 213.1h0M247.5 215.0h0M247.6 216.5h0M247.3 217.8h0M247.2 219.3h0M247.4 220.9h0M247.4 222.1h0M247.8 223.4h0M247.8 225.1h0M247.9 226.5h0M247.4 228.1h0M247.9 229.6h0M247.6 231.2h0M247.3 232.0h0M247.3 233.7h0M247.8 234.8h0M247.4 236.5h0M247.5 237.7h0M248.0 239.3h0M247.9 240.6h0M247.6 241.7h0M247.8 242.9h0M247.4 244.3h0M247.8 246.3h0M247.3 247.6h0M247.8 249.4h0M247.3 250.5h0M247.2 252.4h0M247.8 253.9h0M247.9 255.4h0M247.3 256.6h0M248.0 257.8h0M247.2 259.4h0M247.8 260.2h0M247.3 261.6h0M65.1 150.1h0M64.6 152.2h0M64.9 154.5h0M64.6 156.8h0M65.2 159.6h0M64.7 162.4h0M65.0 164.6h0M65.5 167.1h0M64.6 170.3h0M64.7 172.4h0M65.1 174.9h0M64.7 178.3h0M65.3 180.5h0M65.4 182.9h0M65.0 185.9h0M65.2 189.4h0M64.8 191.7h0M65.4 194.5h0M65.4 196.9h0M64.7 199.0h0M64.9 201.6h0M64.8 203.5h0M65.0 205.6h0M65.4 208.4h0M64.5 210.5h0M65.3 213.4h0M65.3 215.6h0M64.6 218.1h0M65.2 221.0h0M65.3 222.6h0M64.8 225.4h0M64.6 227.7h0M64.5 229.5h0M65.0 231.9h0M65.4 234.2h0M65.0 237.8h0M64.9 240.2h0M198.4 130.1h0M197.9 131.5h0M198.0 133.7h0M198.0 134.9h0M198.5 136.7h0M197.9 138.0h0M198.1 139.4h0M198.0 141.2h0M197.9 142.5h0M197.8 144.1h0M198.2 145.4h0M198.0 146.8h0M198.1 148.2h0M197.9 149.5h0M197.9 151.2h0M198.2 152.6h0M198.4 154.2h0M198.0 155.3h0M198.1 157.3h0M197.9 158.8h0M198.5 160.4h0M198.0 161.7h0M198.3 163.1h0M198.1 164.7h0M200.8 131.1h0M199.9 132.5h0M200.4 135.8h0M200.1 138.7h0M200.1 140.2h0M200.8 143.1h0M200.7 145.5h0M200.3 147.9h0M200.8 150.3h0M200.1 153.0h0M200.5 155.9h0M200.3 158.4h0M200.3 160.8h0M200.8 163.7h0M200.6 165.4h0M205.7 131.0h0M206.1 132.2h0M205.6 132.8h0M206.1 134.3h0M206.0 135.4h0M205.7 136.5h0M206.1 137.6h0M205.9 139.0h0M206.0 140.5h0M205.7 141.8h0M205.7 142.8h0M206.2 144.4h0M205.8 145.2h0M206.0 146.5h0M205.7 147.8h0M206.0 148.9h0M206.1 149.8h0M206.2 151.6h0M205.6 152.7h0M205.8 153.6h0M205.8 155.1h0M205.9 156.5h0M206.2 158.2h0M206.1 160.0h0M206.0 160.6h0M205.8 162.1h0M205.8 163.2h0M206.1 164.5h0M205.6 165.9h0M205.8 167.0h0M207.3 133.2h0M207.2 134.4h0M207.3 135.9h0M207.6 137.3h0M207.6 138.7h0M207.1 139.8h0M207.5 142.1h0M207.5 143.1h0M207.0 144.4h0M207.0 145.7h0M207.0 147.5h0M207.0 148.7h0M207.6 149.9h0M207.0 151.6h0M207.2 153.1h0M207.4 154.5h0M207.4 155.9h0M207.6 156.7h0M207.4 158.2h0M207.1 159.2h0M207.3 160.7h0M207.2 161.3h0M207.4 163.0h0M207.3 164.3h0M200.6 162.9h0M200.5 164.3h0M198.7 166.2h0M198.6 167.0h0M202.3 164.1h0M202.4 165.9h0M202.3 167.2h0M276.0 101.1h0M276.3 102.1h0M276.0 103.0h0M276.3 104.4h0M276.2 105.3h0M276.1 106.6h0M276.0 107.6h0M276.6 108.2h0M275.8 109.4h0M275.8 110.2h0M276.2 111.3h0M276.1 112.1h0M276.3 112.8h0M276.4 113.7h0M276.3 115.2h0M276.5 116.2h0M276.5 117.0h0M276.5 117.6h0M276.1 119.2h0M275.9 120.3h0M275.8 121.3h0M276.1 121.6h0M276.2 123.3h0M276.2 123.8h0M276.4 125.1h0M276.0 126.3h0M275.9 126.9h0M277.7 100.8h0M277.4 102.3h0M277.5 103.6h0M277.3 104.8h0M277.5 105.3h0M277.2 106.9h0M277.3 107.9h0M277.6 108.5h0M277.4 108.9h0M277.1 110.5h0M277.1 111.7h0M277.5 112.4h0M277.3 113.0h0M277.4 114.1h0M277.1 115.1h0M277.5 116.2h0M277.1 117.0h0M277.6 117.9h0M277.6 118.8h0M277.8 119.9h0M277.2 120.5h0M277.6 121.6h0M277.3 122.7h0M277.1 123.9h0M277.8 124.8h0M277.6 125.4h0M277.4 126.0h0M277.7 127.3h0M277.2 128.1h0M277.7 128.9h0M277.4 130.0h0M277.3 130.9h0M277.3 131.7h0M278.6 103.9h0M278.6 104.6h0M278.6 105.6h0M278.8 106.5h0M278.2 107.2h0M278.6 108.0h0M278.8 109.0h0M278.4 110.2h0M278.2 111.3h0M279.0 112.6h0M278.6 113.3h0M278.5 114.4h0M278.7 115.4h0M278.3 116.3h0M278.3 117.8h0M278.7 118.7h0M278.8 119.8h0M278.7 121.2h0M278.7 122.1h0M278.7 123.4h0M278.3 124.3h0M279.0 124.9h0M278.5 126.1h0M278.5 127.6h0M278.3 128.3h0M278.6 129.2h0M278.7 130.0h0M278.7 131.1h0M278.2 132.3h0M279.0 133.2h0M279.0 134.1h0M278.2 135.7h0M278.5 137.0h0M278.6 137.8h0M279.5 112.0h0M279.6 113.1h0M279.6 114.0h0M279.8 114.6h0M279.6 116.4h0M280.2 117.4h0M279.5 119.0h0M279.4 119.8h0M279.7 121.1h0M279.7 122.3h0M279.8 122.8h0M280.1 123.8h0M279.9 125.2h0M279.8 126.2h0M279.9 127.1h0M279.4 128.0h0M279.5 128.8h0M280.2 130.4h0M279.6 131.8h0M280.1 132.5h0M279.8 133.4h0M280.0 134.7h0M279.9 135.9h0M279.9 137.1h0M279.9 138.7h0M279.8 139.2h0M279.8 140.2h0M279.5 141.4h0M280.1 142.7h0M279.8 143.8h0M280.8 125.0h0M280.5 126.9h0M280.6 128.8h0M281.1 131.1h0M281.0 132.9h0M280.7 134.9h0M280.9 137.0h0M280.7 138.7h0M280.8 140.3h0M280.9 142.2h0M280.9 143.4h0M280.9 145.3h0M280.7 146.7h0M281.1 148.7h0M280.7 150.7h0M281.1 151.9h0M282.6 152.0h0M281.4 155.9h0M281.7 159.4h0M282.3 163.6h0M281.7 166.5h0M283.2 169.3h0M281.4 172.3h0M281.4 176.2h0M283.2 179.3h0M281.2 182.4h0M283.0 184.9h0M281.9 189.2h0" fill="none" stroke="#000" stroke-width="2.4" stroke-linecap="round"/><path d="M64.37 220.77L66.38 215.20L68.39 210.12L70.40 205.47L72.41 201.17L74.42 197.17L76.43 193.44L78.44 189.94L80.45 186.64L82.46 183.53L84.47 180.58L86.48 177.77L88.49 175.10L90.49 172.55L92.50 170.11L94.51 167.77L96.52 165.52L98.53 163.36L100.54 161.28L102.55 159.27L104.56 157.33L106.57 155.46L108.58 153.65L110.59 151.89L112.60 150.19L114.61 148.53L116.62 146.92L118.63 145.36L120.64 143.84L122.65 142.36L124.66 140.92L126.67 139.51L128.68 138.14L130.69 136.80L132.70 135.49L134.70 134.21L136.71 132.96L138.72 131.73L140.73 130.53L142.74 129.36L144.75 128.21L146.76 127.09L148.77 125.98L150.78 124.90L152.79 123.84L154.80 122.79L156.81 121.77L158.82 120.76L160.83 119.77L162.84 118.80L164.85 117.85L166.86 116.91L168.87 115.98L170.88 115.08L172.89 114.18L174.90 113.30L176.91 112.43L178.91 111.58L180.92 110.74L182.93 109.91L184.94 109.09L186.95 108.29L188.96 107.49L190.97 106.71L192.98 105.94L194.99 105.18L197.00 104.43L199.01 103.68L201.02 102.95L203.03 102.23L205.04 101.52L207.05 100.81L209.06 100.11L211.07 99.43L213.08 98.75L215.09 98.08L217.10 97.41L219.11 96.76L221.12 96.11L223.12 95.47L225.13 94.84L227.14 94.21L229.15 93.59L231.16 92.98L233.17 92.37L235.18 91.77L237.19 91.18L239.20 90.59L241.21 90.01L243.22 89.43L245.23 88.86L247.24 88.30L249.25 87.74L251.26 87.19L253.27 86.64L255.28 86.10L257.29 85.56L259.30 85.03L261.31 84.50L263.32 83.98L265.32 83.46L267.33 82.95L269.34 82.44L271.35 81.94L273.36 81.44L275.37 80.94L277.38 80.45L279.39 79.97L281.40 79.48L283.41 79.01L285.42 78.53M288.20 77.88L290.23 77.41L292.26 76.95L294.29 76.49L296.32 76.03L298.35 75.57L300.38 75.12L302.40 74.68L304.43 74.23L306.46 73.79L308.49 73.36L310.52 72.92L312.55 72.49L314.58 72.07L316.61 71.64L318.63 71.22L320.66 70.81L322.69 70.39L324.72 69.98L326.75 69.57L328.78 69.17L330.81 68.77L332.83 68.37L334.86 67.97L336.89 67.58L338.92 67.18L340.95 66.80L342.98 66.41L345.01 66.03L347.04 65.65L349.06 65.27L351.09 64.89L353.12 64.52L355.15 64.15L357.18 63.78L359.21 63.42L361.24 63.05L363.27 62.69L365.29 62.33L367.32 61.98L369.35 61.62L371.38 61.27L373.41 60.92L375.44 60.57L377.47 60.23L379.50 59.88L381.52 59.54M394.47 57.41L397.10 56.99L399.72 56.57M390.40 57.97h1.2" fill="none" stroke="#0a0ae8" stroke-width="2.45" stroke-linecap="round" stroke-linejoin="round"/><path d="M64.58 283.33L66.59 280.20L68.60 277.33L70.61 274.71L72.62 272.28L74.62 270.02L76.63 267.91L78.64 265.93L80.65 264.07L82.65 262.31L84.66 260.63L86.67 259.05L88.68 257.53L90.68 256.09L92.69 254.70L94.70 253.38L96.71 252.10L98.71 250.88L100.72 249.70L102.73 248.56L104.74 247.46L106.74 246.39L108.75 245.37L110.76 244.37L112.77 243.40L114.77 242.46L116.78 241.55L118.79 240.66L120.80 239.80L122.80 238.96L124.81 238.14L126.82 237.34L128.83 236.56L130.84 235.80L132.84 235.05L134.85 234.33L136.86 233.62L138.87 232.92L140.87 232.24L142.88 231.57L144.89 230.92L146.90 230.28L148.90 229.65L150.91 229.04L152.92 228.43L154.93 227.84L156.93 227.26L158.94 226.68L160.95 226.12L162.96 225.57L164.96 225.03L166.97 224.49L168.98 223.97L170.99 223.45L172.99 222.94L175.00 222.44L177.01 221.95L179.02 221.46L181.03 220.99L183.03 220.51L185.04 220.05L187.05 219.59L189.06 219.14L191.06 218.69L193.07 218.26L195.08 217.82L197.09 217.39L199.09 216.97L201.10 216.56L203.11 216.15L205.12 215.74L207.12 215.34L209.13 214.94L211.14 214.55L213.15 214.17L215.15 213.78L217.16 213.41L219.17 213.03L221.18 212.66L223.18 212.30L225.19 211.94L227.20 211.58L229.21 211.23L231.22 210.88L233.22 210.54L235.23 210.20L237.24 209.86L239.25 209.52L241.25 209.19L243.26 208.87L245.27 208.54L247.28 208.22L249.28 207.90L251.29 207.59L253.30 207.28L255.31 206.97L257.31 206.66L259.32 206.36L261.33 206.06L263.34 205.76L265.34 205.47L267.35 205.18L269.36 204.89L271.37 204.60L273.37 204.32L275.38 204.03L277.39 203.76L279.40 203.48L281.41 203.20L283.41 202.93L285.42 202.66M288.20 202.29L290.23 202.03L292.26 201.76L294.29 201.50L296.32 201.24L298.35 200.98L300.38 200.72L302.40 200.47L304.43 200.21L306.46 199.96L308.49 199.71L310.52 199.47L312.55 199.22L314.58 198.98L316.61 198.74L318.63 198.50L320.66 198.26L322.69 198.03L324.72 197.79L326.75 197.56L328.78 197.33L330.81 197.10L332.83 196.87L334.86 196.65L336.89 196.42L338.92 196.20L340.95 195.98L342.98 195.76L345.01 195.54L347.04 195.32L349.06 195.11L351.09 194.89L353.12 194.68L355.15 194.47L357.18 194.26L359.21 194.05L361.24 193.84L363.27 193.64L365.29 193.43L367.32 193.23L369.35 193.03L371.38 192.83L373.41 192.63L375.44 192.43L377.47 192.23L379.50 192.04L381.52 191.84M394.47 190.63L397.10 190.39L399.72 190.15M390.40 190.95h1.2" fill="none" stroke="#f0f000" stroke-width="2.2" stroke-linecap="round" stroke-linejoin="round"/><path d="M45.0 20.40V315.72H419.57" fill="none" stroke="#666" stroke-width="1.5"/><path d="M45.0 315.52h3M45.0 278.63h3M45.0 241.74h3M45.0 204.85h3M45.0 167.96h3M45.0 131.07h3M45.0 94.18h3M45.0 57.29h3M45.0 20.40h3M45.00 315.52v-3M98.51 315.52v-3M152.02 315.52v-3M205.53 315.52v-3M259.04 315.52v-3M312.55 315.52v-3M366.06 315.52v-3M419.57 315.52v-3" fill="none" stroke="#666" stroke-width="1.3"/><text x="40.6" y="321.32" font-size="12.5" text-anchor="end">80</text><text x="40.6" y="284.43" font-size="12.5" text-anchor="end">90</text><text x="40.6" y="247.54" font-size="12.5" text-anchor="end">100</text><text x="40.6" y="210.65" font-size="12.5" text-anchor="end">110</text><text x="40.6" y="173.76" font-size="12.5" text-anchor="end">120</text><text x="40.6" y="136.87" font-size="12.5" text-anchor="end">130</text><text x="40.6" y="99.98" font-size="12.5" text-anchor="end">140</text><text x="40.6" y="63.09" font-size="12.5" text-anchor="end">150</text><text x="40.6" y="26.20" font-size="12.5" text-anchor="end">160</text><text x="43.80" y="333.3" font-size="12.5" text-anchor="middle">0</text><text x="97.31" y="333.3" font-size="12.5" text-anchor="middle">1</text><text x="150.82" y="333.3" font-size="12.5" text-anchor="middle">2</text><text x="204.33" y="333.3" font-size="12.5" text-anchor="middle">3</text><text x="257.84" y="333.3" font-size="12.5" text-anchor="middle">4</text><text x="311.35" y="333.3" font-size="12.5" text-anchor="middle">5</text><text x="364.86" y="333.3" font-size="12.5" text-anchor="middle">6</text><text x="418.37" y="333.3" font-size="12.5" text-anchor="middle">7</text><text x="231.5" y="13.25" font-size="13.3" text-anchor="middle">Propagation loss L=f(d)</text><text x="232.5" y="351.5" font-size="12.8" text-anchor="middle">Distance(Km)</text><text transform="translate(13.6 167.7) rotate(-90)" x="0" y="0" font-size="13" text-anchor="middle">L(dB)</text><rect x="305.2" y="212.8" width="107.5" height="99.4" fill="#fff" stroke="#5a5a5a" stroke-width="1.3"/><rect x="324.8" y="222.8" width="2" height="2" fill="#3c3"/><text x="334.8" y="227.9" font-size="12">L<tspan font-size="7.4" dy="3.3">MOA</tspan></text><rect x="324.8" y="242.4" width="2" height="2" fill="#c33"/><text x="334.8" y="247.5" font-size="12">L<tspan font-size="7.4" dy="3.3">reg</tspan></text><rect x="324.8" y="262.0" width="2" height="2" fill="#000"/><text x="334.8" y="267.1" font-size="12">L<tspan font-size="7.4" dy="3.3">real</tspan></text><rect x="324.8" y="281.5" width="2" height="2" fill="#22b"/><text x="334.8" y="286.6" font-size="12">L<tspan font-size="7.4" dy="3.3">Cost231-Hata</tspan></text><rect x="324.8" y="301.0" width="2" height="2" fill="#dd3"/><text x="334.8" y="306.1" font-size="12">L<tspan font-size="7.4" dy="3.3">Free space</tspan></text></svg></body></html>
